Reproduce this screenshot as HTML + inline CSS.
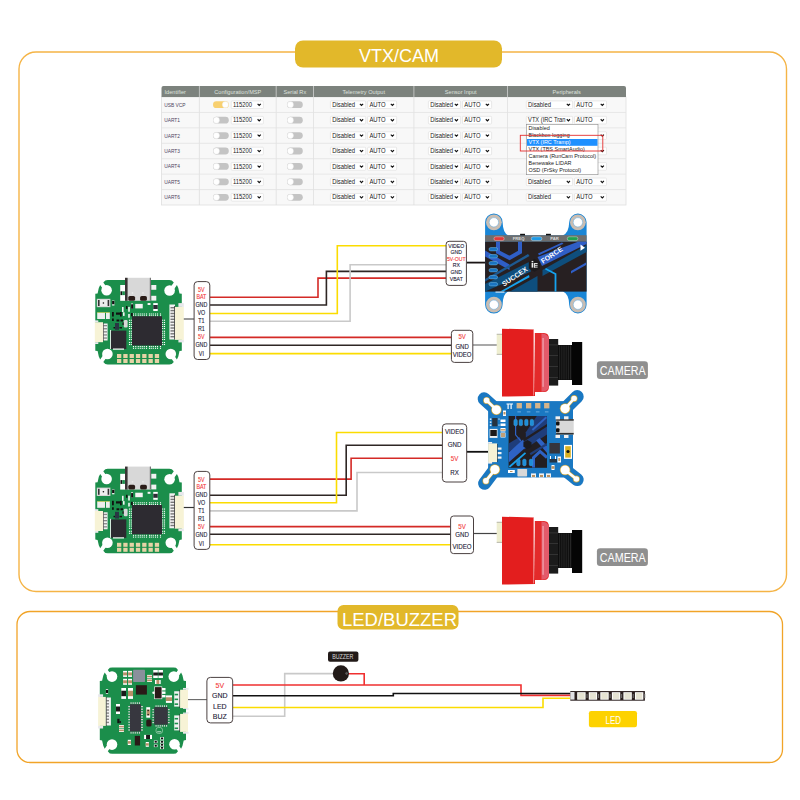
<!DOCTYPE html>
<html><head><meta charset="utf-8"><style>
html,body{margin:0;padding:0;background:#fff;width:800px;height:800px;overflow:hidden}
svg{position:absolute;left:0;top:0;font-family:"Liberation Sans", sans-serif}
</style></head><body>
<svg width="800" height="800" viewBox="0 0 800 800">
<rect x="19" y="52" width="767.5" height="539.5" rx="17" ry="17" fill="none" stroke="#f5b446" stroke-width="1.4"/>
<rect x="295" y="40.5" width="207" height="27" rx="8" fill="#e2b82a"/>
<text x="399" y="62" font-size="18" fill="#fff" text-anchor="middle">VTX/CAM</text>
<rect x="17" y="611.5" width="765.5" height="151" rx="13" ry="13" fill="none" stroke="#f1a428" stroke-width="1.3"/>
<rect x="337.5" y="605" width="121" height="24.5" rx="6" fill="#e2b82a"/>
<text x="399.5" y="625.5" font-size="18.5" fill="#fff" text-anchor="middle">LED/BUZZER</text>
<rect x="161.5" y="97" width="464.5" height="108.00999999999999" fill="#f8f8f8" stroke="#dedede" stroke-width="0.8"/>
<path d="M161.5 97 V88 Q161.5 86 163.5 86 H624 Q626 86 626 88 V97 Z" fill="#7c827d"/>
<text x="164.5" y="93.6" font-size="5.6" fill="#dfe2df">Identifier</text>
<text x="237.8" y="93.6" font-size="5.6" fill="#dfe2df" text-anchor="middle">Configuration/MSP</text>
<text x="294.85" y="93.6" font-size="5.6" fill="#dfe2df" text-anchor="middle">Serial Rx</text>
<text x="363.7" y="93.6" font-size="5.6" fill="#dfe2df" text-anchor="middle">Telemetry Output</text>
<text x="460.7" y="93.6" font-size="5.6" fill="#dfe2df" text-anchor="middle">Sensor Input</text>
<text x="566.75" y="93.6" font-size="5.6" fill="#dfe2df" text-anchor="middle">Peripherals</text>
<line x1="199.4" y1="86" x2="199.4" y2="205.01" stroke="#dcdcdc" stroke-width="0.7"/>
<line x1="276.2" y1="86" x2="276.2" y2="205.01" stroke="#dcdcdc" stroke-width="0.7"/>
<line x1="313.5" y1="86" x2="313.5" y2="205.01" stroke="#dcdcdc" stroke-width="0.7"/>
<line x1="413.9" y1="86" x2="413.9" y2="205.01" stroke="#dcdcdc" stroke-width="0.7"/>
<line x1="507.5" y1="86" x2="507.5" y2="205.01" stroke="#dcdcdc" stroke-width="0.7"/>
<line x1="161.5" y1="112.43" x2="626" y2="112.43" stroke="#e2e2e2" stroke-width="0.8"/>
<line x1="161.5" y1="127.86" x2="626" y2="127.86" stroke="#e2e2e2" stroke-width="0.8"/>
<line x1="161.5" y1="143.29" x2="626" y2="143.29" stroke="#e2e2e2" stroke-width="0.8"/>
<line x1="161.5" y1="158.72" x2="626" y2="158.72" stroke="#e2e2e2" stroke-width="0.8"/>
<line x1="161.5" y1="174.15" x2="626" y2="174.15" stroke="#e2e2e2" stroke-width="0.8"/>
<line x1="161.5" y1="189.57999999999998" x2="626" y2="189.57999999999998" stroke="#e2e2e2" stroke-width="0.8"/>
<text transform="translate(164.2 106.715) scale(0.84 1)" font-size="5.8" fill="#4d4460">USB VCP</text>
<rect x="213" y="101.315" width="15.8" height="6.8" rx="3.4" fill="#f8d070"/><circle cx="225.4" cy="104.715" r="3.1" fill="#fff" stroke="#e0e0e0" stroke-width="0.3"/>
<rect x="231.2" y="100.915" width="32.19999999999999" height="7.6" rx="0.8" fill="#fff" stroke="#d6d6d6" stroke-width="0.5"/><text transform="translate(233.0 106.915) scale(0.920 1)" font-size="6.4" fill="#1a1a1a">115200</text><path d="M257.59999999999997 103.815 L259.2 105.415 L260.8 103.815" fill="none" stroke="#111" stroke-width="1.15"/>
<rect x="287" y="101.315" width="15.8" height="6.8" rx="3.4" fill="#c4c4c4"/><circle cx="290.4" cy="104.715" r="3.1" fill="#fff" stroke="#e0e0e0" stroke-width="0.3"/>
<rect x="330.4" y="100.915" width="35.30000000000001" height="7.6" rx="0.8" fill="#fff" stroke="#d6d6d6" stroke-width="0.5"/><text transform="translate(332.2 106.915) scale(0.920 1)" font-size="6.4" fill="#1a1a1a">Disabled</text><path d="M359.9 103.815 L361.5 105.415 L363.1 103.815" fill="none" stroke="#111" stroke-width="1.15"/>
<rect x="367.6" y="100.915" width="29.0" height="7.6" rx="0.8" fill="#fff" stroke="#d6d6d6" stroke-width="0.5"/><text transform="translate(369.40000000000003 106.915) scale(0.920 1)" font-size="6.4" fill="#1a1a1a">AUTO</text><path d="M390.8 103.815 L392.40000000000003 105.415 L394.00000000000006 103.815" fill="none" stroke="#111" stroke-width="1.15"/>
<rect x="428.4" y="100.915" width="32.200000000000045" height="7.6" rx="0.8" fill="#fff" stroke="#d6d6d6" stroke-width="0.5"/><text transform="translate(430.2 106.915) scale(0.920 1)" font-size="6.4" fill="#1a1a1a">Disabled</text><path d="M454.8 103.815 L456.40000000000003 105.415 L458.00000000000006 103.815" fill="none" stroke="#111" stroke-width="1.15"/>
<rect x="462.5" y="100.915" width="29.100000000000023" height="7.6" rx="0.8" fill="#fff" stroke="#d6d6d6" stroke-width="0.5"/><text transform="translate(464.3 106.915) scale(0.920 1)" font-size="6.4" fill="#1a1a1a">AUTO</text><path d="M485.8 103.815 L487.40000000000003 105.415 L489.00000000000006 103.815" fill="none" stroke="#111" stroke-width="1.15"/>
<rect x="526.3" y="100.915" width="46.30000000000007" height="7.6" rx="0.8" fill="#fff" stroke="#d6d6d6" stroke-width="0.5"/><text transform="translate(528.0999999999999 106.915) scale(0.920 1)" font-size="6.4" fill="#1a1a1a">Disabled</text><path d="M566.8 103.815 L568.4 105.415 L570.0 103.815" fill="none" stroke="#111" stroke-width="1.15"/>
<rect x="574.5" y="100.915" width="32.0" height="7.6" rx="0.8" fill="#fff" stroke="#d6d6d6" stroke-width="0.5"/><text transform="translate(576.3 106.915) scale(0.920 1)" font-size="6.4" fill="#1a1a1a">AUTO</text><path d="M600.6999999999999 103.815 L602.3 105.415 L603.9 103.815" fill="none" stroke="#111" stroke-width="1.15"/>
<text transform="translate(164.2 122.14500000000001) scale(0.84 1)" font-size="5.8" fill="#4d4460">UART1</text>
<rect x="213" y="116.745" width="15.8" height="6.8" rx="3.4" fill="#c4c4c4"/><circle cx="216.4" cy="120.14500000000001" r="3.1" fill="#fff" stroke="#e0e0e0" stroke-width="0.3"/>
<rect x="231.2" y="116.34500000000001" width="32.19999999999999" height="7.6" rx="0.8" fill="#fff" stroke="#d6d6d6" stroke-width="0.5"/><text transform="translate(233.0 122.34500000000001) scale(0.920 1)" font-size="6.4" fill="#1a1a1a">115200</text><path d="M257.59999999999997 119.245 L259.2 120.84500000000001 L260.8 119.245" fill="none" stroke="#111" stroke-width="1.15"/>
<rect x="287" y="116.745" width="15.8" height="6.8" rx="3.4" fill="#c4c4c4"/><circle cx="290.4" cy="120.14500000000001" r="3.1" fill="#fff" stroke="#e0e0e0" stroke-width="0.3"/>
<rect x="330.4" y="116.34500000000001" width="35.30000000000001" height="7.6" rx="0.8" fill="#fff" stroke="#d6d6d6" stroke-width="0.5"/><text transform="translate(332.2 122.34500000000001) scale(0.920 1)" font-size="6.4" fill="#1a1a1a">Disabled</text><path d="M359.9 119.245 L361.5 120.84500000000001 L363.1 119.245" fill="none" stroke="#111" stroke-width="1.15"/>
<rect x="367.6" y="116.34500000000001" width="29.0" height="7.6" rx="0.8" fill="#fff" stroke="#d6d6d6" stroke-width="0.5"/><text transform="translate(369.40000000000003 122.34500000000001) scale(0.920 1)" font-size="6.4" fill="#1a1a1a">AUTO</text><path d="M390.8 119.245 L392.40000000000003 120.84500000000001 L394.00000000000006 119.245" fill="none" stroke="#111" stroke-width="1.15"/>
<rect x="428.4" y="116.34500000000001" width="32.200000000000045" height="7.6" rx="0.8" fill="#fff" stroke="#d6d6d6" stroke-width="0.5"/><text transform="translate(430.2 122.34500000000001) scale(0.920 1)" font-size="6.4" fill="#1a1a1a">Disabled</text><path d="M454.8 119.245 L456.40000000000003 120.84500000000001 L458.00000000000006 119.245" fill="none" stroke="#111" stroke-width="1.15"/>
<rect x="462.5" y="116.34500000000001" width="29.100000000000023" height="7.6" rx="0.8" fill="#fff" stroke="#d6d6d6" stroke-width="0.5"/><text transform="translate(464.3 122.34500000000001) scale(0.920 1)" font-size="6.4" fill="#1a1a1a">AUTO</text><path d="M485.8 119.245 L487.40000000000003 120.84500000000001 L489.00000000000006 119.245" fill="none" stroke="#111" stroke-width="1.15"/>
<rect x="526.3" y="116.34500000000001" width="46.30000000000007" height="7.6" rx="0.8" fill="#fff" stroke="#d6d6d6" stroke-width="0.5"/><text transform="translate(528.0999999999999 122.34500000000001) scale(0.892 1)" font-size="6.4" fill="#1a1a1a">VTX (IRC Tran</text><path d="M566.8 119.245 L568.4 120.84500000000001 L570.0 119.245" fill="none" stroke="#111" stroke-width="1.15"/>
<rect x="574.5" y="116.34500000000001" width="32.0" height="7.6" rx="0.8" fill="#fff" stroke="#d6d6d6" stroke-width="0.5"/><text transform="translate(576.3 122.34500000000001) scale(0.920 1)" font-size="6.4" fill="#1a1a1a">AUTO</text><path d="M600.6999999999999 119.245 L602.3 120.84500000000001 L603.9 119.245" fill="none" stroke="#111" stroke-width="1.15"/>
<text transform="translate(164.2 137.575) scale(0.84 1)" font-size="5.8" fill="#4d4460">UART2</text>
<rect x="213" y="132.17499999999998" width="15.8" height="6.8" rx="3.4" fill="#c4c4c4"/><circle cx="216.4" cy="135.575" r="3.1" fill="#fff" stroke="#e0e0e0" stroke-width="0.3"/>
<rect x="231.2" y="131.77499999999998" width="32.19999999999999" height="7.6" rx="0.8" fill="#fff" stroke="#d6d6d6" stroke-width="0.5"/><text transform="translate(233.0 137.77499999999998) scale(0.920 1)" font-size="6.4" fill="#1a1a1a">115200</text><path d="M257.59999999999997 134.67499999999998 L259.2 136.27499999999998 L260.8 134.67499999999998" fill="none" stroke="#111" stroke-width="1.15"/>
<rect x="287" y="132.17499999999998" width="15.8" height="6.8" rx="3.4" fill="#c4c4c4"/><circle cx="290.4" cy="135.575" r="3.1" fill="#fff" stroke="#e0e0e0" stroke-width="0.3"/>
<rect x="330.4" y="131.77499999999998" width="35.30000000000001" height="7.6" rx="0.8" fill="#fff" stroke="#d6d6d6" stroke-width="0.5"/><text transform="translate(332.2 137.77499999999998) scale(0.920 1)" font-size="6.4" fill="#1a1a1a">Disabled</text><path d="M359.9 134.67499999999998 L361.5 136.27499999999998 L363.1 134.67499999999998" fill="none" stroke="#111" stroke-width="1.15"/>
<rect x="367.6" y="131.77499999999998" width="29.0" height="7.6" rx="0.8" fill="#fff" stroke="#d6d6d6" stroke-width="0.5"/><text transform="translate(369.40000000000003 137.77499999999998) scale(0.920 1)" font-size="6.4" fill="#1a1a1a">AUTO</text><path d="M390.8 134.67499999999998 L392.40000000000003 136.27499999999998 L394.00000000000006 134.67499999999998" fill="none" stroke="#111" stroke-width="1.15"/>
<rect x="428.4" y="131.77499999999998" width="32.200000000000045" height="7.6" rx="0.8" fill="#fff" stroke="#d6d6d6" stroke-width="0.5"/><text transform="translate(430.2 137.77499999999998) scale(0.920 1)" font-size="6.4" fill="#1a1a1a">Disabled</text><path d="M454.8 134.67499999999998 L456.40000000000003 136.27499999999998 L458.00000000000006 134.67499999999998" fill="none" stroke="#111" stroke-width="1.15"/>
<rect x="462.5" y="131.77499999999998" width="29.100000000000023" height="7.6" rx="0.8" fill="#fff" stroke="#d6d6d6" stroke-width="0.5"/><text transform="translate(464.3 137.77499999999998) scale(0.920 1)" font-size="6.4" fill="#1a1a1a">AUTO</text><path d="M485.8 134.67499999999998 L487.40000000000003 136.27499999999998 L489.00000000000006 134.67499999999998" fill="none" stroke="#111" stroke-width="1.15"/>
<rect x="526.3" y="131.77499999999998" width="46.30000000000007" height="7.6" rx="0.8" fill="#fff" stroke="#d6d6d6" stroke-width="0.5"/><text transform="translate(528.0999999999999 137.77499999999998) scale(0.920 1)" font-size="6.4" fill="#1a1a1a">Disabled</text><path d="M566.8 134.67499999999998 L568.4 136.27499999999998 L570.0 134.67499999999998" fill="none" stroke="#111" stroke-width="1.15"/>
<rect x="574.5" y="131.77499999999998" width="32.0" height="7.6" rx="0.8" fill="#fff" stroke="#d6d6d6" stroke-width="0.5"/><text transform="translate(576.3 137.77499999999998) scale(0.920 1)" font-size="6.4" fill="#1a1a1a">AUTO</text><path d="M600.6999999999999 134.67499999999998 L602.3 136.27499999999998 L603.9 134.67499999999998" fill="none" stroke="#111" stroke-width="1.15"/>
<text transform="translate(164.2 153.005) scale(0.84 1)" font-size="5.8" fill="#4d4460">UART3</text>
<rect x="213" y="147.605" width="15.8" height="6.8" rx="3.4" fill="#c4c4c4"/><circle cx="216.4" cy="151.005" r="3.1" fill="#fff" stroke="#e0e0e0" stroke-width="0.3"/>
<rect x="231.2" y="147.20499999999998" width="32.19999999999999" height="7.6" rx="0.8" fill="#fff" stroke="#d6d6d6" stroke-width="0.5"/><text transform="translate(233.0 153.20499999999998) scale(0.920 1)" font-size="6.4" fill="#1a1a1a">115200</text><path d="M257.59999999999997 150.105 L259.2 151.70499999999998 L260.8 150.105" fill="none" stroke="#111" stroke-width="1.15"/>
<rect x="287" y="147.605" width="15.8" height="6.8" rx="3.4" fill="#c4c4c4"/><circle cx="290.4" cy="151.005" r="3.1" fill="#fff" stroke="#e0e0e0" stroke-width="0.3"/>
<rect x="330.4" y="147.20499999999998" width="35.30000000000001" height="7.6" rx="0.8" fill="#fff" stroke="#d6d6d6" stroke-width="0.5"/><text transform="translate(332.2 153.20499999999998) scale(0.920 1)" font-size="6.4" fill="#1a1a1a">Disabled</text><path d="M359.9 150.105 L361.5 151.70499999999998 L363.1 150.105" fill="none" stroke="#111" stroke-width="1.15"/>
<rect x="367.6" y="147.20499999999998" width="29.0" height="7.6" rx="0.8" fill="#fff" stroke="#d6d6d6" stroke-width="0.5"/><text transform="translate(369.40000000000003 153.20499999999998) scale(0.920 1)" font-size="6.4" fill="#1a1a1a">AUTO</text><path d="M390.8 150.105 L392.40000000000003 151.70499999999998 L394.00000000000006 150.105" fill="none" stroke="#111" stroke-width="1.15"/>
<rect x="428.4" y="147.20499999999998" width="32.200000000000045" height="7.6" rx="0.8" fill="#fff" stroke="#d6d6d6" stroke-width="0.5"/><text transform="translate(430.2 153.20499999999998) scale(0.920 1)" font-size="6.4" fill="#1a1a1a">Disabled</text><path d="M454.8 150.105 L456.40000000000003 151.70499999999998 L458.00000000000006 150.105" fill="none" stroke="#111" stroke-width="1.15"/>
<rect x="462.5" y="147.20499999999998" width="29.100000000000023" height="7.6" rx="0.8" fill="#fff" stroke="#d6d6d6" stroke-width="0.5"/><text transform="translate(464.3 153.20499999999998) scale(0.920 1)" font-size="6.4" fill="#1a1a1a">AUTO</text><path d="M485.8 150.105 L487.40000000000003 151.70499999999998 L489.00000000000006 150.105" fill="none" stroke="#111" stroke-width="1.15"/>
<rect x="526.3" y="147.20499999999998" width="46.30000000000007" height="7.6" rx="0.8" fill="#fff" stroke="#d6d6d6" stroke-width="0.5"/><text transform="translate(528.0999999999999 153.20499999999998) scale(0.920 1)" font-size="6.4" fill="#1a1a1a">Disabled</text><path d="M566.8 150.105 L568.4 151.70499999999998 L570.0 150.105" fill="none" stroke="#111" stroke-width="1.15"/>
<rect x="574.5" y="147.20499999999998" width="32.0" height="7.6" rx="0.8" fill="#fff" stroke="#d6d6d6" stroke-width="0.5"/><text transform="translate(576.3 153.20499999999998) scale(0.920 1)" font-size="6.4" fill="#1a1a1a">AUTO</text><path d="M600.6999999999999 150.105 L602.3 151.70499999999998 L603.9 150.105" fill="none" stroke="#111" stroke-width="1.15"/>
<text transform="translate(164.2 168.435) scale(0.84 1)" font-size="5.8" fill="#4d4460">UART4</text>
<rect x="213" y="163.035" width="15.8" height="6.8" rx="3.4" fill="#c4c4c4"/><circle cx="216.4" cy="166.435" r="3.1" fill="#fff" stroke="#e0e0e0" stroke-width="0.3"/>
<rect x="231.2" y="162.635" width="32.19999999999999" height="7.6" rx="0.8" fill="#fff" stroke="#d6d6d6" stroke-width="0.5"/><text transform="translate(233.0 168.635) scale(0.920 1)" font-size="6.4" fill="#1a1a1a">115200</text><path d="M257.59999999999997 165.535 L259.2 167.135 L260.8 165.535" fill="none" stroke="#111" stroke-width="1.15"/>
<rect x="287" y="163.035" width="15.8" height="6.8" rx="3.4" fill="#c4c4c4"/><circle cx="290.4" cy="166.435" r="3.1" fill="#fff" stroke="#e0e0e0" stroke-width="0.3"/>
<rect x="330.4" y="162.635" width="35.30000000000001" height="7.6" rx="0.8" fill="#fff" stroke="#d6d6d6" stroke-width="0.5"/><text transform="translate(332.2 168.635) scale(0.920 1)" font-size="6.4" fill="#1a1a1a">Disabled</text><path d="M359.9 165.535 L361.5 167.135 L363.1 165.535" fill="none" stroke="#111" stroke-width="1.15"/>
<rect x="367.6" y="162.635" width="29.0" height="7.6" rx="0.8" fill="#fff" stroke="#d6d6d6" stroke-width="0.5"/><text transform="translate(369.40000000000003 168.635) scale(0.920 1)" font-size="6.4" fill="#1a1a1a">AUTO</text><path d="M390.8 165.535 L392.40000000000003 167.135 L394.00000000000006 165.535" fill="none" stroke="#111" stroke-width="1.15"/>
<rect x="428.4" y="162.635" width="32.200000000000045" height="7.6" rx="0.8" fill="#fff" stroke="#d6d6d6" stroke-width="0.5"/><text transform="translate(430.2 168.635) scale(0.920 1)" font-size="6.4" fill="#1a1a1a">Disabled</text><path d="M454.8 165.535 L456.40000000000003 167.135 L458.00000000000006 165.535" fill="none" stroke="#111" stroke-width="1.15"/>
<rect x="462.5" y="162.635" width="29.100000000000023" height="7.6" rx="0.8" fill="#fff" stroke="#d6d6d6" stroke-width="0.5"/><text transform="translate(464.3 168.635) scale(0.920 1)" font-size="6.4" fill="#1a1a1a">AUTO</text><path d="M485.8 165.535 L487.40000000000003 167.135 L489.00000000000006 165.535" fill="none" stroke="#111" stroke-width="1.15"/>
<rect x="526.3" y="162.635" width="46.30000000000007" height="7.6" rx="0.8" fill="#fff" stroke="#d6d6d6" stroke-width="0.5"/><text transform="translate(528.0999999999999 168.635) scale(0.920 1)" font-size="6.4" fill="#1a1a1a">Disabled</text><path d="M566.8 165.535 L568.4 167.135 L570.0 165.535" fill="none" stroke="#111" stroke-width="1.15"/>
<rect x="574.5" y="162.635" width="32.0" height="7.6" rx="0.8" fill="#fff" stroke="#d6d6d6" stroke-width="0.5"/><text transform="translate(576.3 168.635) scale(0.920 1)" font-size="6.4" fill="#1a1a1a">AUTO</text><path d="M600.6999999999999 165.535 L602.3 167.135 L603.9 165.535" fill="none" stroke="#111" stroke-width="1.15"/>
<text transform="translate(164.2 183.865) scale(0.84 1)" font-size="5.8" fill="#4d4460">UART5</text>
<rect x="213" y="178.465" width="15.8" height="6.8" rx="3.4" fill="#c4c4c4"/><circle cx="216.4" cy="181.865" r="3.1" fill="#fff" stroke="#e0e0e0" stroke-width="0.3"/>
<rect x="231.2" y="178.065" width="32.19999999999999" height="7.6" rx="0.8" fill="#fff" stroke="#d6d6d6" stroke-width="0.5"/><text transform="translate(233.0 184.065) scale(0.920 1)" font-size="6.4" fill="#1a1a1a">115200</text><path d="M257.59999999999997 180.965 L259.2 182.565 L260.8 180.965" fill="none" stroke="#111" stroke-width="1.15"/>
<rect x="287" y="178.465" width="15.8" height="6.8" rx="3.4" fill="#c4c4c4"/><circle cx="290.4" cy="181.865" r="3.1" fill="#fff" stroke="#e0e0e0" stroke-width="0.3"/>
<rect x="330.4" y="178.065" width="35.30000000000001" height="7.6" rx="0.8" fill="#fff" stroke="#d6d6d6" stroke-width="0.5"/><text transform="translate(332.2 184.065) scale(0.920 1)" font-size="6.4" fill="#1a1a1a">Disabled</text><path d="M359.9 180.965 L361.5 182.565 L363.1 180.965" fill="none" stroke="#111" stroke-width="1.15"/>
<rect x="367.6" y="178.065" width="29.0" height="7.6" rx="0.8" fill="#fff" stroke="#d6d6d6" stroke-width="0.5"/><text transform="translate(369.40000000000003 184.065) scale(0.920 1)" font-size="6.4" fill="#1a1a1a">AUTO</text><path d="M390.8 180.965 L392.40000000000003 182.565 L394.00000000000006 180.965" fill="none" stroke="#111" stroke-width="1.15"/>
<rect x="428.4" y="178.065" width="32.200000000000045" height="7.6" rx="0.8" fill="#fff" stroke="#d6d6d6" stroke-width="0.5"/><text transform="translate(430.2 184.065) scale(0.920 1)" font-size="6.4" fill="#1a1a1a">Disabled</text><path d="M454.8 180.965 L456.40000000000003 182.565 L458.00000000000006 180.965" fill="none" stroke="#111" stroke-width="1.15"/>
<rect x="462.5" y="178.065" width="29.100000000000023" height="7.6" rx="0.8" fill="#fff" stroke="#d6d6d6" stroke-width="0.5"/><text transform="translate(464.3 184.065) scale(0.920 1)" font-size="6.4" fill="#1a1a1a">AUTO</text><path d="M485.8 180.965 L487.40000000000003 182.565 L489.00000000000006 180.965" fill="none" stroke="#111" stroke-width="1.15"/>
<rect x="526.3" y="178.065" width="46.30000000000007" height="7.6" rx="0.8" fill="#fff" stroke="#d6d6d6" stroke-width="0.5"/><text transform="translate(528.0999999999999 184.065) scale(0.920 1)" font-size="6.4" fill="#1a1a1a">Disabled</text><path d="M566.8 180.965 L568.4 182.565 L570.0 180.965" fill="none" stroke="#111" stroke-width="1.15"/>
<rect x="574.5" y="178.065" width="32.0" height="7.6" rx="0.8" fill="#fff" stroke="#d6d6d6" stroke-width="0.5"/><text transform="translate(576.3 184.065) scale(0.920 1)" font-size="6.4" fill="#1a1a1a">AUTO</text><path d="M600.6999999999999 180.965 L602.3 182.565 L603.9 180.965" fill="none" stroke="#111" stroke-width="1.15"/>
<text transform="translate(164.2 199.295) scale(0.84 1)" font-size="5.8" fill="#4d4460">UART6</text>
<rect x="213" y="193.89499999999998" width="15.8" height="6.8" rx="3.4" fill="#c4c4c4"/><circle cx="216.4" cy="197.295" r="3.1" fill="#fff" stroke="#e0e0e0" stroke-width="0.3"/>
<rect x="231.2" y="193.49499999999998" width="32.19999999999999" height="7.6" rx="0.8" fill="#fff" stroke="#d6d6d6" stroke-width="0.5"/><text transform="translate(233.0 199.49499999999998) scale(0.920 1)" font-size="6.4" fill="#1a1a1a">115200</text><path d="M257.59999999999997 196.39499999999998 L259.2 197.99499999999998 L260.8 196.39499999999998" fill="none" stroke="#111" stroke-width="1.15"/>
<rect x="287" y="193.89499999999998" width="15.8" height="6.8" rx="3.4" fill="#c4c4c4"/><circle cx="290.4" cy="197.295" r="3.1" fill="#fff" stroke="#e0e0e0" stroke-width="0.3"/>
<rect x="330.4" y="193.49499999999998" width="35.30000000000001" height="7.6" rx="0.8" fill="#fff" stroke="#d6d6d6" stroke-width="0.5"/><text transform="translate(332.2 199.49499999999998) scale(0.920 1)" font-size="6.4" fill="#1a1a1a">Disabled</text><path d="M359.9 196.39499999999998 L361.5 197.99499999999998 L363.1 196.39499999999998" fill="none" stroke="#111" stroke-width="1.15"/>
<rect x="367.6" y="193.49499999999998" width="29.0" height="7.6" rx="0.8" fill="#fff" stroke="#d6d6d6" stroke-width="0.5"/><text transform="translate(369.40000000000003 199.49499999999998) scale(0.920 1)" font-size="6.4" fill="#1a1a1a">AUTO</text><path d="M390.8 196.39499999999998 L392.40000000000003 197.99499999999998 L394.00000000000006 196.39499999999998" fill="none" stroke="#111" stroke-width="1.15"/>
<rect x="428.4" y="193.49499999999998" width="32.200000000000045" height="7.6" rx="0.8" fill="#fff" stroke="#d6d6d6" stroke-width="0.5"/><text transform="translate(430.2 199.49499999999998) scale(0.920 1)" font-size="6.4" fill="#1a1a1a">Disabled</text><path d="M454.8 196.39499999999998 L456.40000000000003 197.99499999999998 L458.00000000000006 196.39499999999998" fill="none" stroke="#111" stroke-width="1.15"/>
<rect x="462.5" y="193.49499999999998" width="29.100000000000023" height="7.6" rx="0.8" fill="#fff" stroke="#d6d6d6" stroke-width="0.5"/><text transform="translate(464.3 199.49499999999998) scale(0.920 1)" font-size="6.4" fill="#1a1a1a">AUTO</text><path d="M485.8 196.39499999999998 L487.40000000000003 197.99499999999998 L489.00000000000006 196.39499999999998" fill="none" stroke="#111" stroke-width="1.15"/>
<rect x="526.3" y="193.49499999999998" width="46.30000000000007" height="7.6" rx="0.8" fill="#fff" stroke="#d6d6d6" stroke-width="0.5"/><text transform="translate(528.0999999999999 199.49499999999998) scale(0.920 1)" font-size="6.4" fill="#1a1a1a">Disabled</text><path d="M566.8 196.39499999999998 L568.4 197.99499999999998 L570.0 196.39499999999998" fill="none" stroke="#111" stroke-width="1.15"/>
<rect x="574.5" y="193.49499999999998" width="32.0" height="7.6" rx="0.8" fill="#fff" stroke="#d6d6d6" stroke-width="0.5"/><text transform="translate(576.3 199.49499999999998) scale(0.920 1)" font-size="6.4" fill="#1a1a1a">AUTO</text><path d="M600.6999999999999 196.39499999999998 L602.3 197.99499999999998 L603.9 196.39499999999998" fill="none" stroke="#111" stroke-width="1.15"/>
<rect x="526.5" y="124.5" width="71.5" height="50.2" fill="#fff" stroke="#8a8a8a" stroke-width="0.6"/>
<rect x="527" y="139" width="70.5" height="6.8" fill="#1e90ff"/>
<text transform="translate(528.5 130.0) scale(0.88 1)" font-size="6.2" fill="#222">Disabled</text>
<text transform="translate(528.5 137.05) scale(0.88 1)" font-size="6.2" fill="#222">Blackbox logging</text>
<text transform="translate(528.5 144.1) scale(0.88 1)" font-size="6.2" fill="#fff">VTX (IRC Tramp)</text>
<text transform="translate(528.5 151.15) scale(0.88 1)" font-size="6.2" fill="#222">VTX (TBS SmartAudio)</text>
<text transform="translate(528.5 158.2) scale(0.88 1)" font-size="6.2" fill="#222">Camera (RunCam Protocol)</text>
<text transform="translate(528.5 165.25) scale(0.88 1)" font-size="6.2" fill="#222">Benewake LIDAR</text>
<text transform="translate(528.5 172.3) scale(0.88 1)" font-size="6.2" fill="#222">OSD (FrSky Protocol)</text>
<rect x="520.3" y="135.3" width="82.5" height="15.7" fill="none" stroke="#e53030" stroke-width="0.9"/>
<path d="M210 297.3 L318 297.3 L318 278.1 L446.5 278.1" fill="none" stroke="#d42a26" stroke-width="1.6" stroke-linejoin="miter"/>
<path d="M210 305 L326.4 305 L326.4 271.4 L446.5 271.4" fill="none" stroke="#2e2624" stroke-width="1.6" stroke-linejoin="miter"/>
<path d="M210 313.5 L337.3 313.5 L337.3 245.7 L446.5 245.7" fill="none" stroke="#fbdc00" stroke-width="1.6" stroke-linejoin="miter"/>
<path d="M210 321.3 L350.1 321.3 L350.1 264.7 L446.5 264.7" fill="none" stroke="#c9c9c9" stroke-width="1.6" stroke-linejoin="miter"/>
<path d="M210 337.4 L451.5 337.4" fill="none" stroke="#d42a26" stroke-width="1.6" stroke-linejoin="miter"/>
<path d="M210 345.3 L451.5 345.3" fill="none" stroke="#2e2624" stroke-width="1.6" stroke-linejoin="miter"/>
<path d="M210 353.6 L451.5 353.6" fill="none" stroke="#fbdc00" stroke-width="1.6" stroke-linejoin="miter"/>
<path d="M182 319 L194.2 319" fill="none" stroke="#555" stroke-width="1.2" stroke-linejoin="miter"/>
<path d="M466.4 262.6 L486 262.6" fill="none" stroke="#1a1414" stroke-width="1.8" stroke-linejoin="miter"/>
<path d="M472.8 345 L497 345" fill="none" stroke="#858585" stroke-width="1.4" stroke-linejoin="miter"/>
<path d="M210 479.1 L351.1 479.1 L351.1 458.2 L442.6 458.2" fill="none" stroke="#d42a26" stroke-width="1.6" stroke-linejoin="miter"/>
<path d="M210 495.2 L346.2 495.2 L346.2 445.3 L442.6 445.3" fill="none" stroke="#2e2624" stroke-width="1.6" stroke-linejoin="miter"/>
<path d="M210 502.7 L336.5 502.7 L336.5 432.5 L442.6 432.5" fill="none" stroke="#fbdc00" stroke-width="1.6" stroke-linejoin="miter"/>
<path d="M210 510.9 L357 510.9 L357 472.5 L442.6 472.5" fill="none" stroke="#c9c9c9" stroke-width="1.6" stroke-linejoin="miter"/>
<path d="M210 526.6 L451 526.6" fill="none" stroke="#d42a26" stroke-width="1.6" stroke-linejoin="miter"/>
<path d="M210 534.2 L451 534.2" fill="none" stroke="#2e2624" stroke-width="1.6" stroke-linejoin="miter"/>
<path d="M210 544.7 L451 544.7" fill="none" stroke="#fbdc00" stroke-width="1.6" stroke-linejoin="miter"/>
<path d="M182 507.5 L194.2 507.5" fill="none" stroke="#333" stroke-width="1.2" stroke-linejoin="miter"/>
<path d="M466.7 451.8 L489 451.8" fill="none" stroke="#111" stroke-width="1.8" stroke-linejoin="miter"/>
<path d="M473.5 533.5 L497 533.5" fill="none" stroke="#444" stroke-width="1.2" stroke-linejoin="miter"/>
<path d="M188 699.6 L207 699.6" fill="none" stroke="#666" stroke-width="1.1" stroke-linejoin="miter"/>
<path d="M233 716.2 L284.7 716.2 L284.7 673.6 L335 673.6" fill="none" stroke="#c9c9c9" stroke-width="1.6" stroke-linejoin="miter"/>
<path d="M233 685 L521 685 L521 695.4 L571 695.4" fill="none" stroke="#f03030" stroke-width="1.6" stroke-linejoin="miter"/>
<path d="M364.2 685 L364.2 673.8 L343 673.8" fill="none" stroke="#f03030" stroke-width="1.6" stroke-linejoin="miter"/>
<path d="M233 695.7 L393.3 695.7 L393.3 693.5 L571 693.5" fill="none" stroke="#111" stroke-width="1.6" stroke-linejoin="miter"/>
<path d="M233 707.5 L543 707.5 L543 698.2 L571 698.2" fill="none" stroke="#fbdc00" stroke-width="1.6" stroke-linejoin="miter"/>
<rect x="194.1" y="281.6" width="15.700000000000017" height="77.89999999999998" rx="3.5" fill="#fff" stroke="#4a4040" stroke-width="1.0"/>
<text transform="translate(201.35 291.6) scale(0.82 1)" x="0" y="0" font-size="6.5" fill="#f23a3a" stroke="#f23a3a" stroke-width="0.12" text-anchor="middle">5V</text>
<text transform="translate(201.35 299.3) scale(0.82 1)" x="0" y="0" font-size="6.5" fill="#f23a3a" stroke="#f23a3a" stroke-width="0.12" text-anchor="middle">BAT</text>
<text transform="translate(201.35 307.1) scale(0.82 1)" x="0" y="0" font-size="6.5" fill="#1b2036" stroke="#1b2036" stroke-width="0.12" text-anchor="middle">GND</text>
<text transform="translate(201.35 315.3) scale(0.82 1)" x="0" y="0" font-size="6.5" fill="#1b2036" stroke="#1b2036" stroke-width="0.12" text-anchor="middle">VO</text>
<text transform="translate(201.35 323.2) scale(0.82 1)" x="0" y="0" font-size="6.5" fill="#1b2036" stroke="#1b2036" stroke-width="0.12" text-anchor="middle">T1</text>
<text transform="translate(201.35 331.2) scale(0.82 1)" x="0" y="0" font-size="6.5" fill="#1b2036" stroke="#1b2036" stroke-width="0.12" text-anchor="middle">R1</text>
<text transform="translate(201.35 339.2) scale(0.82 1)" x="0" y="0" font-size="6.5" fill="#f23a3a" stroke="#f23a3a" stroke-width="0.12" text-anchor="middle">5V</text>
<text transform="translate(201.35 347.2) scale(0.82 1)" x="0" y="0" font-size="6.5" fill="#1b2036" stroke="#1b2036" stroke-width="0.12" text-anchor="middle">GND</text>
<text transform="translate(201.35 355.9) scale(0.82 1)" x="0" y="0" font-size="6.5" fill="#1b2036" stroke="#1b2036" stroke-width="0.12" text-anchor="middle">VI</text>
<rect x="194.1" y="471.4" width="15.700000000000017" height="78.0" rx="3.5" fill="#fff" stroke="#4a4040" stroke-width="1.0"/>
<text transform="translate(201.35 481.6) scale(0.82 1)" x="0" y="0" font-size="6.5" fill="#f23a3a" stroke="#f23a3a" stroke-width="0.12" text-anchor="middle">5V</text>
<text transform="translate(201.35 489.3) scale(0.82 1)" x="0" y="0" font-size="6.5" fill="#f23a3a" stroke="#f23a3a" stroke-width="0.12" text-anchor="middle">BAT</text>
<text transform="translate(201.35 497.1) scale(0.82 1)" x="0" y="0" font-size="6.5" fill="#1b2036" stroke="#1b2036" stroke-width="0.12" text-anchor="middle">GND</text>
<text transform="translate(201.35 505.3) scale(0.82 1)" x="0" y="0" font-size="6.5" fill="#1b2036" stroke="#1b2036" stroke-width="0.12" text-anchor="middle">VO</text>
<text transform="translate(201.35 513.2) scale(0.82 1)" x="0" y="0" font-size="6.5" fill="#1b2036" stroke="#1b2036" stroke-width="0.12" text-anchor="middle">T1</text>
<text transform="translate(201.35 521.2) scale(0.82 1)" x="0" y="0" font-size="6.5" fill="#1b2036" stroke="#1b2036" stroke-width="0.12" text-anchor="middle">R1</text>
<text transform="translate(201.35 529.2) scale(0.82 1)" x="0" y="0" font-size="6.5" fill="#f23a3a" stroke="#f23a3a" stroke-width="0.12" text-anchor="middle">5V</text>
<text transform="translate(201.35 537.2) scale(0.82 1)" x="0" y="0" font-size="6.5" fill="#1b2036" stroke="#1b2036" stroke-width="0.12" text-anchor="middle">GND</text>
<text transform="translate(201.35 545.9) scale(0.82 1)" x="0" y="0" font-size="6.5" fill="#1b2036" stroke="#1b2036" stroke-width="0.12" text-anchor="middle">VI</text>
<rect x="446.1" y="241.3" width="20.299999999999955" height="44.099999999999966" rx="3" fill="#fff" stroke="#4a4040" stroke-width="1.0"/>
<text transform="translate(456.25 248.4) scale(0.83 1)" x="0" y="0" font-size="6.2" fill="#1b2036" stroke="#1b2036" stroke-width="0.12" text-anchor="middle">VIDEO</text>
<text transform="translate(456.25 254.2) scale(0.83 1)" x="0" y="0" font-size="6.2" fill="#1b2036" stroke="#1b2036" stroke-width="0.12" text-anchor="middle">GND</text>
<text transform="translate(456.25 261.3) scale(0.83 1)" x="0" y="0" font-size="6.2" fill="#f23a3a" stroke="#f23a3a" stroke-width="0.12" text-anchor="middle">5V-OUT</text>
<text transform="translate(456.25 267.3) scale(0.83 1)" x="0" y="0" font-size="6.2" fill="#1b2036" stroke="#1b2036" stroke-width="0.12" text-anchor="middle">RX</text>
<text transform="translate(456.25 274.2) scale(0.83 1)" x="0" y="0" font-size="6.2" fill="#1b2036" stroke="#1b2036" stroke-width="0.12" text-anchor="middle">GND</text>
<text transform="translate(456.25 281) scale(0.83 1)" x="0" y="0" font-size="6.2" fill="#1b2036" stroke="#1b2036" stroke-width="0.12" text-anchor="middle">VBAT</text>
<rect x="451.4" y="330.3" width="21.400000000000034" height="32.099999999999966" rx="3" fill="#fff" stroke="#4a4040" stroke-width="1.0"/>
<text transform="translate(462.1 338.8) scale(0.87 1)" x="0" y="0" font-size="6.9" fill="#f23a3a" stroke="#f23a3a" stroke-width="0.12" text-anchor="middle">5V</text>
<text transform="translate(462.1 348.6) scale(0.87 1)" x="0" y="0" font-size="6.9" fill="#1b2036" stroke="#1b2036" stroke-width="0.12" text-anchor="middle">GND</text>
<text transform="translate(462.1 357.3) scale(0.87 1)" x="0" y="0" font-size="6.9" fill="#1b2036" stroke="#1b2036" stroke-width="0.12" text-anchor="middle">VIDEO</text>
<rect x="442.4" y="423.9" width="24.30000000000001" height="58.10000000000002" rx="3.5" fill="#fff" stroke="#4a4040" stroke-width="1.0"/>
<text transform="translate(454.54999999999995 434.2) scale(0.88 1)" x="0" y="0" font-size="7.0" fill="#1b2036" stroke="#1b2036" stroke-width="0.12" text-anchor="middle">VIDEO</text>
<text transform="translate(454.54999999999995 447.3) scale(0.88 1)" x="0" y="0" font-size="7.0" fill="#1b2036" stroke="#1b2036" stroke-width="0.12" text-anchor="middle">GND</text>
<text transform="translate(454.54999999999995 461.4) scale(0.88 1)" x="0" y="0" font-size="7.0" fill="#f23a3a" stroke="#f23a3a" stroke-width="0.12" text-anchor="middle">5V</text>
<text transform="translate(454.54999999999995 475) scale(0.88 1)" x="0" y="0" font-size="7.0" fill="#1b2036" stroke="#1b2036" stroke-width="0.12" text-anchor="middle">RX</text>
<rect x="450.6" y="516" width="22.899999999999977" height="37.60000000000002" rx="3" fill="#fff" stroke="#4a4040" stroke-width="1.0"/>
<text transform="translate(462.05 528.6) scale(0.88 1)" x="0" y="0" font-size="7.0" fill="#f23a3a" stroke="#f23a3a" stroke-width="0.12" text-anchor="middle">5V</text>
<text transform="translate(462.05 536.6) scale(0.88 1)" x="0" y="0" font-size="7.0" fill="#1b2036" stroke="#1b2036" stroke-width="0.12" text-anchor="middle">GND</text>
<text transform="translate(462.05 548.9) scale(0.88 1)" x="0" y="0" font-size="7.0" fill="#1b2036" stroke="#1b2036" stroke-width="0.12" text-anchor="middle">VIDEO</text>
<rect x="206.9" y="677.4" width="25.799999999999983" height="45.5" rx="3.5" fill="#fff" stroke="#4a4040" stroke-width="1.0"/>
<text transform="translate(219.8 687.5) scale(0.97 1)" x="0" y="0" font-size="7.2" fill="#f23a3a" stroke="#f23a3a" stroke-width="0.12" text-anchor="middle">5V</text>
<text transform="translate(219.8 698.4) scale(0.97 1)" x="0" y="0" font-size="7.2" fill="#1b2036" stroke="#1b2036" stroke-width="0.12" text-anchor="middle">GND</text>
<text transform="translate(219.8 709.4) scale(0.97 1)" x="0" y="0" font-size="7.2" fill="#1b2036" stroke="#1b2036" stroke-width="0.12" text-anchor="middle">LED</text>
<text transform="translate(219.8 719.4) scale(0.97 1)" x="0" y="0" font-size="7.2" fill="#1b2036" stroke="#1b2036" stroke-width="0.12" text-anchor="middle">BUZ</text>
<g id="fc1"><path d="M95.30 293.70 L97.60 293.40 L98.80 288.00 L100.20 285.10 L102.90 289.00 L105.80 286.00 L103.30 282.50 L105.30 280.40 L107.70 280.00 L169.40 280.00 L171.80 280.40 L173.80 282.50 L171.30 286.00 L174.20 289.00 L176.90 285.10 L178.30 288.00 L179.50 293.40 L181.80 293.70 L181.80 350.80 L179.50 351.10 L178.30 356.50 L176.90 359.40 L174.20 355.50 L171.30 358.50 L173.80 362.00 L171.80 364.10 L169.40 364.50 L107.70 364.50 L105.30 364.10 L103.30 362.00 L105.80 358.50 L102.90 355.50 L100.20 359.40 L98.80 356.50 L97.60 351.10 L95.30 350.80 Z" fill="#1b8e4b"/>
<circle cx="106.6" cy="290.2" r="5.3" fill="#fff"/>
<circle cx="169.6" cy="290.5" r="5.3" fill="#fff"/>
<circle cx="107.4" cy="354" r="5.3" fill="#fff"/>
<circle cx="170.8" cy="354" r="5.3" fill="#fff"/>
<rect x="125" y="277.8" width="26" height="23" fill="#d8d8d8"/>
<rect x="125" y="277.8" width="2.6" height="23" fill="#3a3434"/>
<rect x="149.8" y="277.8" width="1.2" height="23" fill="#777"/>
<rect x="128.3" y="296" width="6.8" height="4.8" rx="1.6" fill="#2a1c18"/>
<rect x="140.1" y="296" width="6.8" height="4.8" rx="1.6" fill="#2a1c18"/>
<circle cx="132.5" cy="293" r="0.9" fill="#e8e8e8"/><circle cx="143" cy="293" r="0.9" fill="#e8e8e8"/>
<rect x="120.2" y="285" width="4.8" height="15.8" fill="#fff"/>
<rect x="120.5" y="291.3" width="1.8" height="3.8" fill="#111"/>
<rect x="122.3" y="291.3" width="2.6" height="3.8" fill="#1b8e4b"/>
<rect x="151.3" y="285" width="5" height="4.8" fill="#f2f2f2"/>
<rect x="151.3" y="295.8" width="5" height="4.8" fill="#f2f2f2"/>
<rect x="96.8" y="298.8" width="13.6" height="8.4" fill="#cfcfcf"/><rect x="97.6" y="299.6" width="12" height="6.8" fill="#eee"/><rect x="98" y="300" width="1.6" height="6" fill="#333"/><rect x="107.6" y="300" width="1.6" height="6" fill="#333"/>
<circle cx="103.4" cy="303" r="0.8" fill="#111"/>
<rect x="112.1" y="300.5" width="2.3" height="5" fill="#fff"/><rect x="112.1" y="300.9" width="2.3" height="3.4" fill="#111"/>
<rect x="97.2" y="312.5" width="7.8" height="6.5" fill="#eee"/><rect x="106" y="312.5" width="3.8" height="6.5" fill="#eee"/>
<rect x="97.2" y="312.2" width="12.6" height="0.7" fill="#b8c848"/>
<rect x="112" y="312" width="1.8" height="4.5" fill="#111"/>
<rect x="116" y="312.5" width="4.5" height="2.2" fill="#111"/>
<rect x="120" y="312" width="1.8" height="4.5" fill="#111"/>
<rect x="112" y="318.5" width="1.8" height="2.5" fill="#111"/>
<rect x="116.5" y="319.5" width="2.8" height="2" fill="#111"/>
<rect x="120.5" y="319.5" width="2.5" height="2" fill="#111"/>
<rect x="113.5" y="327" width="1.5" height="1.5" fill="#111"/>
<rect x="119.5" y="327" width="2.5" height="1.5" fill="#111"/>
<rect x="122.5" y="322.5" width="2" height="2.5" fill="#111"/>
<rect x="126" y="306" width="1.5" height="3" fill="#111"/>
<rect x="135.25" y="303.9" width="7.5" height="4.5" fill="#f4f4f4"/>
<rect x="147.6" y="303" width="2.9" height="2" fill="#f4f4f4"/>
<rect x="122" y="307" width="1.6" height="5" fill="#f4f4f4"/>
<rect x="123" y="312.3" width="1.6" height="3.6" fill="#f4f4f4"/>
<rect x="131.1" y="303.5" width="1.9" height="5.2" fill="#fff"/><rect x="131.1" y="304.25" width="1.9" height="4.5" fill="#111"/>
<rect x="153.25" y="303.1" width="4.5" height="7.9" fill="#fff"/><rect x="153.25" y="305" width="4.5" height="4" fill="#2c2c34"/>
<rect x="128.25" y="306.9" width="1.5" height="4.85" fill="#fff"/><rect x="128.25" y="314" width="1.5" height="3.75" fill="#fff"/>
<rect x="123.8" y="320" width="3.8" height="7.5" rx="1.2" fill="#d8d8d8"/>
<rect x="115" y="323" width="4" height="6.8" fill="#2a3644"/>
<rect x="110.2" y="330" width="1" height="19" fill="#fff"/>
<rect x="111" y="330.6" width="15.3" height="18.4" fill="#2c2a30"/>
<rect x="113" y="348.5" width="11" height="1.2" fill="#fff"/>
<rect x="128.95" y="319.70" width="1.1" height="1.1" fill="#fff"/><rect x="130.75" y="319.70" width="1.1" height="1.1" fill="#fff"/><rect x="162.15" y="319.70" width="1.1" height="1.1" fill="#fff"/><rect x="163.95" y="319.70" width="1.1" height="1.1" fill="#fff"/><rect x="128.95" y="321.95" width="1.1" height="1.1" fill="#fff"/><rect x="130.75" y="321.95" width="1.1" height="1.1" fill="#fff"/><rect x="162.15" y="321.95" width="1.1" height="1.1" fill="#fff"/><rect x="163.95" y="321.95" width="1.1" height="1.1" fill="#fff"/><rect x="128.95" y="323.95" width="1.1" height="1.1" fill="#fff"/><rect x="130.75" y="323.95" width="1.1" height="1.1" fill="#fff"/><rect x="162.15" y="323.95" width="1.1" height="1.1" fill="#fff"/><rect x="163.95" y="323.95" width="1.1" height="1.1" fill="#fff"/><rect x="128.95" y="325.95" width="1.1" height="1.1" fill="#fff"/><rect x="130.75" y="325.95" width="1.1" height="1.1" fill="#fff"/><rect x="162.15" y="325.95" width="1.1" height="1.1" fill="#fff"/><rect x="163.95" y="325.95" width="1.1" height="1.1" fill="#fff"/><rect x="128.95" y="327.95" width="1.1" height="1.1" fill="#fff"/><rect x="130.75" y="327.95" width="1.1" height="1.1" fill="#fff"/><rect x="162.15" y="327.95" width="1.1" height="1.1" fill="#fff"/><rect x="163.95" y="327.95" width="1.1" height="1.1" fill="#fff"/><rect x="128.95" y="330.70" width="1.1" height="1.1" fill="#fff"/><rect x="130.75" y="330.70" width="1.1" height="1.1" fill="#fff"/><rect x="162.15" y="330.70" width="1.1" height="1.1" fill="#fff"/><rect x="163.95" y="330.70" width="1.1" height="1.1" fill="#fff"/><rect x="128.95" y="332.70" width="1.1" height="1.1" fill="#fff"/><rect x="130.75" y="332.70" width="1.1" height="1.1" fill="#fff"/><rect x="162.15" y="332.70" width="1.1" height="1.1" fill="#fff"/><rect x="163.95" y="332.70" width="1.1" height="1.1" fill="#fff"/><rect x="128.95" y="334.70" width="1.1" height="1.1" fill="#fff"/><rect x="130.75" y="334.70" width="1.1" height="1.1" fill="#fff"/><rect x="162.15" y="334.70" width="1.1" height="1.1" fill="#fff"/><rect x="163.95" y="334.70" width="1.1" height="1.1" fill="#fff"/><rect x="128.95" y="336.70" width="1.1" height="1.1" fill="#fff"/><rect x="130.75" y="336.70" width="1.1" height="1.1" fill="#fff"/><rect x="162.15" y="336.70" width="1.1" height="1.1" fill="#fff"/><rect x="163.95" y="336.70" width="1.1" height="1.1" fill="#fff"/><rect x="128.95" y="338.95" width="1.1" height="1.1" fill="#fff"/><rect x="130.75" y="338.95" width="1.1" height="1.1" fill="#fff"/><rect x="162.15" y="338.95" width="1.1" height="1.1" fill="#fff"/><rect x="163.95" y="338.95" width="1.1" height="1.1" fill="#fff"/><rect x="128.95" y="341.95" width="1.1" height="1.1" fill="#fff"/><rect x="130.75" y="341.95" width="1.1" height="1.1" fill="#fff"/><rect x="162.15" y="341.95" width="1.1" height="1.1" fill="#fff"/><rect x="163.95" y="341.95" width="1.1" height="1.1" fill="#fff"/><rect x="128.95" y="343.95" width="1.1" height="1.1" fill="#fff"/><rect x="130.75" y="343.95" width="1.1" height="1.1" fill="#fff"/><rect x="162.15" y="343.95" width="1.1" height="1.1" fill="#fff"/><rect x="163.95" y="343.95" width="1.1" height="1.1" fill="#fff"/><rect x="132.95" y="313.45" width="1.1" height="1.1" fill="#fff"/><rect x="132.95" y="315.25" width="1.1" height="1.1" fill="#fff"/><rect x="132.95" y="345.95" width="1.1" height="1.1" fill="#fff"/><rect x="132.95" y="347.75" width="1.1" height="1.1" fill="#fff"/><rect x="135.20" y="313.45" width="1.1" height="1.1" fill="#fff"/><rect x="135.20" y="315.25" width="1.1" height="1.1" fill="#fff"/><rect x="135.20" y="345.95" width="1.1" height="1.1" fill="#fff"/><rect x="135.20" y="347.75" width="1.1" height="1.1" fill="#fff"/><rect x="137.70" y="313.45" width="1.1" height="1.1" fill="#fff"/><rect x="137.70" y="315.25" width="1.1" height="1.1" fill="#fff"/><rect x="137.70" y="345.95" width="1.1" height="1.1" fill="#fff"/><rect x="137.70" y="347.75" width="1.1" height="1.1" fill="#fff"/><rect x="139.70" y="313.45" width="1.1" height="1.1" fill="#fff"/><rect x="139.70" y="315.25" width="1.1" height="1.1" fill="#fff"/><rect x="139.70" y="345.95" width="1.1" height="1.1" fill="#fff"/><rect x="139.70" y="347.75" width="1.1" height="1.1" fill="#fff"/><rect x="141.70" y="313.45" width="1.1" height="1.1" fill="#fff"/><rect x="141.70" y="315.25" width="1.1" height="1.1" fill="#fff"/><rect x="141.70" y="345.95" width="1.1" height="1.1" fill="#fff"/><rect x="141.70" y="347.75" width="1.1" height="1.1" fill="#fff"/><rect x="143.70" y="313.45" width="1.1" height="1.1" fill="#fff"/><rect x="143.70" y="315.25" width="1.1" height="1.1" fill="#fff"/><rect x="143.70" y="345.95" width="1.1" height="1.1" fill="#fff"/><rect x="143.70" y="347.75" width="1.1" height="1.1" fill="#fff"/><rect x="145.95" y="313.45" width="1.1" height="1.1" fill="#fff"/><rect x="145.95" y="315.25" width="1.1" height="1.1" fill="#fff"/><rect x="145.95" y="345.95" width="1.1" height="1.1" fill="#fff"/><rect x="145.95" y="347.75" width="1.1" height="1.1" fill="#fff"/><rect x="148.95" y="313.45" width="1.1" height="1.1" fill="#fff"/><rect x="148.95" y="315.25" width="1.1" height="1.1" fill="#fff"/><rect x="148.95" y="345.95" width="1.1" height="1.1" fill="#fff"/><rect x="148.95" y="347.75" width="1.1" height="1.1" fill="#fff"/><rect x="150.70" y="313.45" width="1.1" height="1.1" fill="#fff"/><rect x="150.70" y="315.25" width="1.1" height="1.1" fill="#fff"/><rect x="150.70" y="345.95" width="1.1" height="1.1" fill="#fff"/><rect x="150.70" y="347.75" width="1.1" height="1.1" fill="#fff"/><rect x="152.70" y="313.45" width="1.1" height="1.1" fill="#fff"/><rect x="152.70" y="315.25" width="1.1" height="1.1" fill="#fff"/><rect x="152.70" y="345.95" width="1.1" height="1.1" fill="#fff"/><rect x="152.70" y="347.75" width="1.1" height="1.1" fill="#fff"/><rect x="154.95" y="313.45" width="1.1" height="1.1" fill="#fff"/><rect x="154.95" y="315.25" width="1.1" height="1.1" fill="#fff"/><rect x="154.95" y="345.95" width="1.1" height="1.1" fill="#fff"/><rect x="154.95" y="347.75" width="1.1" height="1.1" fill="#fff"/><rect x="156.95" y="313.45" width="1.1" height="1.1" fill="#fff"/><rect x="156.95" y="315.25" width="1.1" height="1.1" fill="#fff"/><rect x="156.95" y="345.95" width="1.1" height="1.1" fill="#fff"/><rect x="156.95" y="347.75" width="1.1" height="1.1" fill="#fff"/><rect x="159.95" y="313.45" width="1.1" height="1.1" fill="#fff"/><rect x="159.95" y="315.25" width="1.1" height="1.1" fill="#fff"/><rect x="159.95" y="345.95" width="1.1" height="1.1" fill="#fff"/><rect x="159.95" y="347.75" width="1.1" height="1.1" fill="#fff"/>
<rect x="132" y="316.2" width="30" height="29.3" fill="#2d2b31"/>
<rect x="131" y="313" width="1.75" height="3.25" fill="#111"/>
<rect x="169.4" y="304.5" width="5.6" height="35" fill="#f2f2f2"/>
<rect x="170.5" y="307.0" width="4" height="1.4" fill="#777"/>
<rect x="170.5" y="309.9" width="4" height="1.4" fill="#777"/>
<rect x="170.5" y="312.8" width="4" height="1.4" fill="#777"/>
<rect x="170.5" y="315.7" width="4" height="1.4" fill="#777"/>
<rect x="170.5" y="318.6" width="4" height="1.4" fill="#777"/>
<rect x="170.5" y="321.5" width="4" height="1.4" fill="#777"/>
<rect x="170.5" y="324.4" width="4" height="1.4" fill="#777"/>
<rect x="170.5" y="327.3" width="4" height="1.4" fill="#777"/>
<rect x="170.5" y="330.2" width="4" height="1.4" fill="#777"/>
<rect x="170.5" y="333.1" width="4" height="1.4" fill="#777"/>
<rect x="170.5" y="336.0" width="4" height="1.4" fill="#777"/>
<rect x="174.3" y="306" width="0.8" height="33.5" fill="#222"/>
<rect x="175" y="306.9" width="8.8" height="33" fill="#f7f3d6"/>
<rect x="178.4" y="303.1" width="5.4" height="3.8" fill="#e8e8ec"/>
<rect x="178.4" y="339.9" width="5.4" height="2.5" fill="#e8e8ec"/>
<rect x="94.8" y="322.2" width="8.2" height="20" fill="#f7f3d6"/>
<rect x="94.8" y="320.4" width="3.5" height="1.8" fill="#e8e8ec"/><rect x="94.8" y="342.2" width="3.5" height="1.8" fill="#e8e8ec"/>
<rect x="103" y="323.5" width="4.6" height="17" fill="#f2f2f2"/>
<rect x="103.5" y="325.0" width="3.6" height="1.3" fill="#888"/>
<rect x="103.5" y="328.1" width="3.6" height="1.3" fill="#888"/>
<rect x="103.5" y="331.2" width="3.6" height="1.3" fill="#888"/>
<rect x="103.5" y="334.3" width="3.6" height="1.3" fill="#888"/>
<rect x="103.5" y="337.4" width="3.6" height="1.3" fill="#888"/>
<rect x="103" y="323" width="0.6" height="18" fill="#333"/>
<rect x="117.0" y="354" width="4.3" height="4" fill="#e6d3a6"/>
<rect x="123.3" y="354" width="4.3" height="4" fill="#e6d3a6"/>
<rect x="129.6" y="354" width="4.3" height="4" fill="#e6d3a6"/>
<rect x="135.9" y="354" width="4.3" height="4" fill="#e6d3a6"/>
<rect x="142.2" y="354" width="4.3" height="4" fill="#e6d3a6"/>
<rect x="148.5" y="354" width="4.3" height="4" fill="#e6d3a6"/>
<rect x="154.8" y="354" width="4.3" height="4" fill="#e6d3a6"/>
<rect x="117.0" y="359" width="4.3" height="4" fill="#e6d3a6"/>
<rect x="123.3" y="359" width="4.3" height="4" fill="#e6d3a6"/>
<rect x="129.6" y="359" width="4.3" height="4" fill="#e6d3a6"/>
<rect x="135.9" y="359" width="4.3" height="4" fill="#e6d3a6"/>
<rect x="142.2" y="359" width="4.3" height="4" fill="#e6d3a6"/>
<rect x="148.5" y="359" width="4.3" height="4" fill="#e6d3a6"/>
<rect x="154.8" y="359" width="4.3" height="4" fill="#e6d3a6"/></g>
<use href="#fc1" transform="translate(0 188.8)"/><path d="M485.1 222.3 A8.7 8.7 0 0 1 502.6 222.3 Q503 233 508 235.2 L563 235.2 Q568.8 233 569.2 222.3 A8.7 8.7 0 0 1 586.6 222.3 L586.6 304.7 A8.7 8.7 0 0 1 569.2 304.7 Q568.8 293.8 563 291.6 L508 291.6 Q503 293.8 502.6 304.7 A8.7 8.7 0 0 1 485.1 304.7 Z" fill="#1a86d6"/>
<circle cx="493.9" cy="222.3" r="7.9" fill="#c9bdb2"/>
<circle cx="493.9" cy="222.3" r="4.7" fill="#fff" stroke="#5aa8e0" stroke-width="0.5"/>
<circle cx="493.9" cy="304.7" r="7.9" fill="#c9bdb2"/>
<circle cx="493.9" cy="304.7" r="4.7" fill="#fff" stroke="#5aa8e0" stroke-width="0.5"/>
<circle cx="577.9" cy="222.3" r="7.9" fill="#c9bdb2"/>
<circle cx="577.9" cy="222.3" r="4.7" fill="#fff" stroke="#5aa8e0" stroke-width="0.5"/>
<circle cx="577.9" cy="304.7" r="7.9" fill="#c9bdb2"/>
<circle cx="577.9" cy="304.7" r="4.7" fill="#fff" stroke="#5aa8e0" stroke-width="0.5"/>
<rect x="485.1" y="235.2" width="101.5" height="6.6" fill="#6e6e6e"/>
<rect x="520.1" y="233.8" width="4.9" height="1.6" fill="#111"/><rect x="546" y="233.8" width="4.9" height="1.6" fill="#111"/>
<rect x="493.9" y="236.8" width="10.300000000000011" height="3.8" rx="1.9" fill="#e03a3a" stroke="#fff" stroke-width="0.35"/>
<rect x="531.2" y="236.8" width="10.699999999999932" height="3.8" rx="1.9" fill="#1e9ae6" stroke="#fff" stroke-width="0.35"/>
<rect x="567.3" y="236.8" width="10.600000000000023" height="3.8" rx="1.9" fill="#22a050" stroke="#fff" stroke-width="0.35"/>
<text x="518.6" y="240.4" font-size="4.2" font-weight="bold" fill="#ddd" text-anchor="middle">FREQ</text>
<text x="554.6" y="240.4" font-size="4.2" font-weight="bold" fill="#ddd" text-anchor="middle">PAR</text>
<rect x="485.1" y="241.8" width="101.5" height="49.8" fill="#272022"/>
<polyline points="498,241.8 498,252 509.5,258 520,252 520,241.8" fill="none" stroke="#2f5ec6" stroke-width="4"/>
<polygon points="485.1,250.5 509.5,264.5 509.5,270 485.1,256.5" fill="#2f5ec6"/>
<polygon points="485.1,279 528,254 529.5,256 485.1,281.5" fill="#1d5a92"/>
<polygon points="485.1,284 529,262 531,271.5 485.1,291.6" fill="#0e4e7d"/>
<polygon points="500,291.6 529,275 529.5,277.2 503.5,291.6" fill="#16a2ee"/>
<polygon points="510,291.6 537.5,276 537.5,291.6" fill="#0e4e7d"/>
<polygon points="537.5,257 578,241.8 586.6,241.8 586.6,244 542,266" fill="#2f5ec6"/>
<polygon points="538,253.5 562,242.5 563.5,243.8 539,255.3" fill="#2f5ec6"/>
<polygon points="542.5,270 586.6,245 586.6,252 542.5,276" fill="#0e4e7d"/>
<polyline points="545.5,268.8 555.5,274 555.5,291.6" fill="none" stroke="#16a2ee" stroke-width="1.8"/>
<polygon points="571,271 586,262.5 586,265 571,273.5" fill="#2f5ec6"/>
<polygon points="534.4,258.8 540,262 540,268.6 534.4,271.8 528.8,268.6 528.8,262" fill="#1c1a1c"/>
<rect x="531.6" y="260.9" width="1.7" height="1.4" fill="#eee"/><rect x="531.6" y="263" width="1.7" height="4.6" fill="#eee"/><rect x="534" y="263" width="3.6" height="1" fill="#ddd"/><rect x="534" y="264.8" width="3.6" height="1" fill="#ddd"/><rect x="534" y="266.6" width="3.6" height="1" fill="#ddd"/><rect x="534" y="263" width="1" height="4.6" fill="#ddd"/>
<polygon points="580.5,244.5 585,247.7 580.5,250.8" fill="#fff"/>
<text transform="translate(516 278.5) rotate(-34)" font-size="7" font-weight="bold" fill="#fff" text-anchor="middle">SUCCEX</text>
<text transform="translate(553.2 257) rotate(-34)" font-size="7" font-weight="bold" fill="#fff" text-anchor="middle">FORCE</text>
<rect x="489" y="247.50" width="8.6" height="3.4" rx="1.7" fill="#1a74c0" stroke="#7cc4f0" stroke-width="0.45"/>
<rect x="489" y="254.50" width="8.6" height="3.4" rx="1.7" fill="#1a74c0" stroke="#7cc4f0" stroke-width="0.45"/>
<rect x="489" y="261.50" width="8.6" height="3.4" rx="1.7" fill="#1a74c0" stroke="#7cc4f0" stroke-width="0.45"/>
<rect x="489" y="268.50" width="8.6" height="3.4" rx="1.7" fill="#1a74c0" stroke="#7cc4f0" stroke-width="0.45"/>
<rect x="489" y="275.50" width="8.6" height="3.4" rx="1.7" fill="#1a74c0" stroke="#7cc4f0" stroke-width="0.45"/>
<rect x="489" y="282.50" width="8.6" height="3.4" rx="1.7" fill="#1a74c0" stroke="#7cc4f0" stroke-width="0.45"/>
<rect x="495.5" y="291.6" width="9" height="1" fill="#f2f6fa"/><g transform="translate(0 0)">
<rect x="496.7" y="334" width="5.6" height="20.6" fill="#eeeed0"/>
<rect x="496.7" y="333.8" width="5.6" height="0.8" fill="#a8a8a0"/>
<rect x="496.7" y="353.90000000000003" width="5.6" height="0.8" fill="#a8a8a0"/>
<polygon points="502,328.7 533.8,329.4 535,396 502,396.5" fill="#e31e1e"/>
<rect x="533" y="330" width="0.9" height="65.5" fill="#f08080"/>
<path d="M534.8 333 H544 Q549 333 549 339 V386 Q549 392 544 392 H534.8 Z" fill="#e32a2a"/>
<path d="M541.5 333.5 Q549 334 549 340 V385 Q549 391.5 541.5 391.8 Z" fill="#e35a6a"/>
<rect x="542.6" y="338" width="0.9" height="49" rx="0.4" fill="#f6c0c8"/>
<rect x="549" y="339" width="9.2" height="46.6" fill="#1b1b1b"/>
<rect x="549" y="344.5" width="9.2" height="0.8" fill="#3a3a3a"/>
<rect x="549" y="355" width="9.2" height="0.8" fill="#3a3a3a"/>
<rect x="549" y="366" width="9.2" height="0.8" fill="#3a3a3a"/>
<rect x="549" y="377" width="9.2" height="0.8" fill="#3a3a3a"/>
<rect x="558" y="345" width="14" height="35" fill="#0d0d0d"/>
<rect x="559.5" y="345.5" width="0.6" height="34" fill="#383838"/>
<rect x="561.6" y="345.5" width="0.6" height="34" fill="#383838"/>
<rect x="563.7" y="345.5" width="0.6" height="34" fill="#383838"/>
<rect x="565.8" y="345.5" width="0.6" height="34" fill="#383838"/>
<rect x="567.9" y="345.5" width="0.6" height="34" fill="#383838"/>
<rect x="570.0" y="345.5" width="0.6" height="34" fill="#383838"/>
<rect x="572" y="342" width="10.2" height="43" fill="#050505"/>
<rect x="596.9" y="361.3" width="51" height="17.7" rx="3.2" fill="#8f8f8f"/>
<text transform="translate(622.8 374.9) scale(0.84 1)" font-size="12.8" fill="#fff" text-anchor="middle">CAMERA</text>
</g><g transform="translate(0 188)">
<rect x="496.7" y="334" width="5.6" height="20.6" fill="#eeeed0"/>
<rect x="496.7" y="333.8" width="5.6" height="0.8" fill="#a8a8a0"/>
<rect x="496.7" y="353.90000000000003" width="5.6" height="0.8" fill="#a8a8a0"/>
<polygon points="502,328.7 533.8,329.4 535,396 502,396.5" fill="#e31e1e"/>
<rect x="533" y="330" width="0.9" height="65.5" fill="#f08080"/>
<path d="M534.8 333 H544 Q549 333 549 339 V386 Q549 392 544 392 H534.8 Z" fill="#e32a2a"/>
<path d="M541.5 333.5 Q549 334 549 340 V385 Q549 391.5 541.5 391.8 Z" fill="#e35a6a"/>
<rect x="542.6" y="338" width="0.9" height="49" rx="0.4" fill="#f6c0c8"/>
<rect x="549" y="339" width="9.2" height="46.6" fill="#1b1b1b"/>
<rect x="549" y="344.5" width="9.2" height="0.8" fill="#3a3a3a"/>
<rect x="549" y="355" width="9.2" height="0.8" fill="#3a3a3a"/>
<rect x="549" y="366" width="9.2" height="0.8" fill="#3a3a3a"/>
<rect x="549" y="377" width="9.2" height="0.8" fill="#3a3a3a"/>
<rect x="558" y="345" width="14" height="35" fill="#0d0d0d"/>
<rect x="559.5" y="345.5" width="0.6" height="34" fill="#383838"/>
<rect x="561.6" y="345.5" width="0.6" height="34" fill="#383838"/>
<rect x="563.7" y="345.5" width="0.6" height="34" fill="#383838"/>
<rect x="565.8" y="345.5" width="0.6" height="34" fill="#383838"/>
<rect x="567.9" y="345.5" width="0.6" height="34" fill="#383838"/>
<rect x="570.0" y="345.5" width="0.6" height="34" fill="#383838"/>
<rect x="572" y="342" width="10.2" height="43" fill="#050505"/>
<rect x="596.9" y="360.2" width="51" height="17.7" rx="3.2" fill="#8f8f8f"/>
<text transform="translate(622.8 373.79999999999995) scale(0.84 1)" font-size="12.8" fill="#fff" text-anchor="middle">CAMERA</text>
</g><line x1="496.4" y1="409.8" x2="484.2" y2="398.8" stroke="#1a78c2" stroke-width="13" stroke-linecap="round"/>
<line x1="565.1" y1="408.6" x2="577.2" y2="396.6" stroke="#1a78c2" stroke-width="13" stroke-linecap="round"/>
<line x1="494.9" y1="469.6" x2="484.6" y2="483.3" stroke="#1a78c2" stroke-width="13" stroke-linecap="round"/>
<line x1="565.1" y1="470" x2="577.2" y2="479.6" stroke="#1a78c2" stroke-width="13" stroke-linecap="round"/>
<rect x="488.1" y="401.1" width="84.9" height="76.4" fill="#1a78c2"/>
<line x1="496.4" y1="409.8" x2="486.6" y2="400.4" stroke="#c9a236" stroke-width="3.6" stroke-linecap="round"/>
<circle cx="496.4" cy="409.8" r="5.3" fill="#c9a236"/><circle cx="486.6" cy="400.4" r="3.5" fill="#c9a236"/>
<line x1="496.4" y1="409.8" x2="486.6" y2="400.4" stroke="#fff" stroke-width="2.6" stroke-linecap="round"/>
<circle cx="496.4" cy="409.8" r="4.6" fill="#fff"/><circle cx="486.6" cy="400.4" r="2.8" fill="#fff"/>
<line x1="565.1" y1="408.6" x2="574.1" y2="398.5" stroke="#c9a236" stroke-width="3.6" stroke-linecap="round"/>
<circle cx="565.1" cy="408.6" r="5.3" fill="#c9a236"/><circle cx="574.1" cy="398.5" r="3.5" fill="#c9a236"/>
<line x1="565.1" y1="408.6" x2="574.1" y2="398.5" stroke="#fff" stroke-width="2.6" stroke-linecap="round"/>
<circle cx="565.1" cy="408.6" r="4.6" fill="#fff"/><circle cx="574.1" cy="398.5" r="2.8" fill="#fff"/>
<line x1="494.9" y1="469.6" x2="485.9" y2="480.9" stroke="#c9a236" stroke-width="3.6" stroke-linecap="round"/>
<circle cx="494.9" cy="469.6" r="5.3" fill="#c9a236"/><circle cx="485.9" cy="480.9" r="3.5" fill="#c9a236"/>
<line x1="494.9" y1="469.6" x2="485.9" y2="480.9" stroke="#fff" stroke-width="2.6" stroke-linecap="round"/>
<circle cx="494.9" cy="469.6" r="4.6" fill="#fff"/><circle cx="485.9" cy="480.9" r="2.8" fill="#fff"/>
<line x1="565.1" y1="470" x2="576.4" y2="479" stroke="#c9a236" stroke-width="3.6" stroke-linecap="round"/>
<circle cx="565.1" cy="470" r="5.3" fill="#c9a236"/><circle cx="576.4" cy="479" r="3.5" fill="#c9a236"/>
<line x1="565.1" y1="470" x2="576.4" y2="479" stroke="#fff" stroke-width="2.6" stroke-linecap="round"/>
<circle cx="565.1" cy="470" r="4.6" fill="#fff"/><circle cx="576.4" cy="479" r="2.8" fill="#fff"/>
<rect x="516.6" y="403" width="5.3" height="5.4" fill="#d6b48a"/>
<rect x="517.4" y="411.5" width="3.6" height="0.8" fill="#7fb8e6"/>
<rect x="526" y="403" width="5.3" height="5.4" fill="#d6b48a"/>
<rect x="526.8" y="411.5" width="3.6" height="0.8" fill="#7fb8e6"/>
<rect x="535.1" y="403" width="5.3" height="5.4" fill="#d6b48a"/>
<rect x="535.9" y="411.5" width="3.6" height="0.8" fill="#7fb8e6"/>
<rect x="544.1" y="403" width="5.3" height="5.4" fill="#d6b48a"/>
<rect x="544.9" y="411.5" width="3.6" height="0.8" fill="#7fb8e6"/>
<rect x="506.5" y="403.5" width="6.5" height="1" fill="#fff"/><rect x="507.5" y="404" width="1.2" height="5" fill="#fff"/><rect x="510.5" y="404" width="1.2" height="5" fill="#fff"/>
<rect x="508.6" y="416" width="38.4" height="51.8" fill="#221e22"/>
<svg x="508.6" y="416" width="38.4" height="51.8" viewBox="0 0 38.4 51.8" overflow="hidden">
<polygon points="17.2,16.2 28.2,0 38.4,0 38.4,7.9 17.2,21.6" fill="#1f3d7a"/>
<polygon points="12.5,27.5 38.4,10.5 38.4,18.5 15.5,33.5" fill="#1f3d7a"/>
<polygon points="0,27.5 11,21 13.5,26.5 0,36" fill="#1f3d7a"/>
<polygon points="0,36.6 14.5,23.5 17,31.5 0,46.5" fill="#2e62c4"/>
<polygon points="27.5,24.5 31,22 38.4,30 38.4,37" fill="#2e62c4"/>
<polyline points="21.6,38.3 38.4,28" fill="none" stroke="#1f3d7a" stroke-width="2.2"/>
<polyline points="24.9,51.8 24.9,41.6 31.5,35.5 38.4,41.6" fill="none" stroke="#2e62c4" stroke-width="3"/>
<polyline points="0.7,51 16.9,36.9" fill="none" stroke="#18a0ea" stroke-width="1.8"/>
<polyline points="7,0 7,18.9 12.25,25" fill="none" stroke="#2e62c4" stroke-width="1.2"/>
<polyline points="23.8,14 37.8,1.3" fill="none" stroke="#2e62c4" stroke-width="2"/>
<polygon points="18.85,23.9 22.9,26.2 22.9,30.8 18.85,33.1 14.8,30.8 14.8,26.2" fill="#1b1b20"/>
<rect x="5.2" y="3.2" width="3.6" height="6.6" rx="1.6" fill="#1e8ed8" stroke="#5ab8f0" stroke-width="0.3"/>
<rect x="10.45" y="3.2" width="3.6" height="6.6" rx="1.6" fill="#1e8ed8" stroke="#5ab8f0" stroke-width="0.3"/>
<rect x="15.95" y="3.2" width="3.6" height="6.6" rx="1.6" fill="#1e8ed8" stroke="#5ab8f0" stroke-width="0.3"/>
<rect x="21.45" y="3.2" width="3.6" height="6.6" rx="1.6" fill="#1e8ed8" stroke="#5ab8f0" stroke-width="0.3"/>
<rect x="8.0" y="43" width="3.6" height="6.9" rx="1.6" fill="#1e8ed8" stroke="#5ab8f0" stroke-width="0.3"/>
<rect x="14.0" y="43" width="3.6" height="6.9" rx="1.6" fill="#1e8ed8" stroke="#5ab8f0" stroke-width="0.3"/>
<rect x="20.599999999999998" y="43" width="3.6" height="6.9" rx="1.6" fill="#1e8ed8" stroke="#5ab8f0" stroke-width="0.3"/>
</svg>
<rect x="556.1" y="419.1" width="17.6" height="15.4" fill="#d8d8d8"/>
<rect x="556.1" y="419.1" width="17.6" height="1.6" fill="#333"/><rect x="556.1" y="432.9" width="17.6" height="1.6" fill="#333"/>
<rect x="556" y="421.5" width="3.5" height="4" rx="1" fill="#111"/><rect x="556" y="428.2" width="3.5" height="4" rx="1" fill="#111"/>
<rect x="555.5" y="416.3" width="4.5" height="3" fill="#f0f0f0"/>
<rect x="564" y="416.3" width="4.5" height="3" fill="#f0f0f0"/>
<rect x="555.5" y="435" width="4.5" height="3" fill="#f0f0f0"/>
<rect x="564" y="435" width="4.5" height="3" fill="#f0f0f0"/>
<rect x="549.4" y="443" width="10.5" height="10.5" fill="#35353d"/>
<rect x="564" y="444.9" width="8" height="14" fill="#fff"/><rect x="565.2" y="446.2" width="5.6" height="11.4" fill="#d8b020"/><circle cx="568" cy="451.5" r="1.6" fill="#111"/>
<rect x="549.5" y="459" width="7.5" height="3.5" fill="#233446"/><rect x="550" y="456" width="1" height="3" fill="#fff"/><rect x="555" y="456" width="1" height="3" fill="#fff"/>
<rect x="557.5" y="456.5" width="3.5" height="6" fill="#fff"/><rect x="558.3" y="458" width="1.9" height="3" fill="#c8a070"/>
<rect x="551.5" y="465" width="3" height="5" fill="#fff"/><rect x="551.5" y="466.2" width="3" height="2.6" fill="#b89060"/>
<rect x="488.1" y="443.4" width="9" height="18.7" fill="#f7f2d6"/>
<rect x="488.1" y="442" width="4" height="1.6" fill="#eee"/><rect x="488.1" y="462" width="4" height="1.6" fill="#eee"/>
<rect x="497.5" y="447.5" width="4" height="2.2" fill="#f4f4f4"/>
<rect x="497.5" y="452.0" width="4" height="2.2" fill="#f4f4f4"/>
<rect x="497.5" y="456.5" width="4" height="2.2" fill="#f4f4f4"/>
<rect x="497.2" y="444" width="0.5" height="18" fill="#222"/>
<rect x="492.2" y="418" width="5.3" height="8.3" fill="#263340"/>
<rect x="489.8" y="418.5" width="1.6" height="1.3" fill="#fff"/>
<rect x="489.8" y="421.5" width="1.6" height="1.3" fill="#fff"/>
<rect x="489.8" y="424.5" width="1.6" height="1.3" fill="#fff"/>
<rect x="498.5" y="418.5" width="1" height="1.2" fill="#fff"/><rect x="498.5" y="424.5" width="1" height="1.2" fill="#fff"/>
<rect x="489.6" y="428.9" width="7.9" height="9" fill="#f0f0f0"/><rect x="490.3" y="430" width="6.5" height="6" fill="#1d1a1a"/>
<rect x="500.5" y="419.5" width="5" height="2.5" fill="#fff"/><rect x="500.5" y="423.5" width="5" height="2.5" fill="#fff"/>
<rect x="500.5" y="428" width="5" height="3.5" fill="#fff"/><rect x="500.5" y="429" width="5" height="1.6" fill="#c8a070"/>
<rect x="500.5" y="432.5" width="5" height="5" fill="#fff"/><rect x="501" y="433" width="4" height="4" fill="#c0a078"/>
<rect x="503" y="410.5" width="3" height="5.5" fill="#fff"/><rect x="503.5" y="412" width="2" height="2.5" fill="#b89060"/>
<rect x="508" y="470" width="6.8" height="3" fill="#fff"/><rect x="510" y="471" width="2.5" height="1" fill="#b89060"/>
<rect x="517.4" y="468.9" width="9.7" height="7.5" rx="0.6" fill="#d8d8d8"/>
<rect x="531" y="473.4" width="5" height="4.1" fill="#f0f0f0"/><rect x="532" y="475" width="3" height="2" fill="#b89060"/>
<rect x="539" y="473.4" width="5" height="4.1" fill="#f0f0f0"/><rect x="540" y="475" width="3" height="2" fill="#b89060"/>
<rect x="546" y="473.4" width="5" height="4.1" fill="#f0f0f0"/><rect x="547" y="475" width="3" height="2" fill="#b89060"/><path d="M99.80 681.10 L102.10 680.80 L103.30 675.40 L104.70 672.50 L107.40 676.40 L110.30 673.40 L107.80 669.90 L109.80 667.80 L112.20 667.40 L173.60 667.40 L176.00 667.80 L178.00 669.90 L175.50 673.40 L178.40 676.40 L181.10 672.50 L182.50 675.40 L183.70 680.80 L186.00 681.10 L186.00 740.10 L183.70 740.40 L182.50 745.80 L181.10 748.70 L178.40 744.80 L175.50 747.80 L178.00 751.30 L176.00 753.40 L173.60 753.80 L112.20 753.80 L109.80 753.40 L107.80 751.30 L110.30 747.80 L107.40 744.80 L104.70 748.70 L103.30 745.80 L102.10 740.40 L99.80 740.10 Z" fill="#1b8e4b"/>
<circle cx="112" cy="676.6" r="5.3" fill="#fff"/>
<circle cx="173.8" cy="676.6" r="5.3" fill="#fff"/>
<circle cx="112" cy="744.6" r="5.3" fill="#fff"/>
<circle cx="174.5" cy="744.3" r="5.3" fill="#fff"/>
<rect x="123.1" y="670.9" width="3.9" height="6" fill="#fff"/><rect x="123.1" y="672.40" width="3.9" height="3.00" fill="#b89068"/>
<rect x="123.1" y="678.8" width="3.9" height="6" fill="#fff"/><rect x="123.1" y="680.30" width="3.9" height="3.00" fill="#b89068"/>
<rect x="128.1" y="670.9" width="3.9" height="6" fill="#fff"/><rect x="128.1" y="672.40" width="3.9" height="3.00" fill="#b89068"/>
<rect x="128.1" y="678.8" width="3.9" height="6" fill="#fff"/><rect x="128.1" y="680.30" width="3.9" height="3.00" fill="#b89068"/>
<rect x="133.1" y="669.8" width="11.9" height="12.1" rx="0.6" fill="#8a909c"/>
<rect x="135.9" y="685.2" width="11" height="9.4" fill="#2a1a18"/>
<rect x="121.3" y="688" width="4.7" height="10.9" fill="#fff"/><rect x="121.3" y="690.73" width="4.7" height="5.45" fill="#1a1a1a"/>
<rect x="128" y="688" width="5" height="10.9" fill="#fff"/><rect x="128" y="690.73" width="5" height="5.45" fill="#b89068"/>
<rect x="105.9" y="689" width="2.2" height="5" fill="#fff"/><rect x="105.9" y="689.8" width="2.2" height="3.4" fill="#111"/>
<rect x="153.25" y="670" width="9.7" height="8" fill="#fff"/><rect x="153.25" y="672.5" width="9.7" height="3" fill="#1a1a1a"/><rect x="157.8" y="670" width="0.6" height="8" fill="#1b8e4b"/>
<rect x="147.1" y="674.9" width="4.9" height="3.2" fill="#fff"/><rect x="147.1" y="675.70" width="4.9" height="1.60" fill="#b89068"/>
<rect x="147.1" y="678.7" width="4.9" height="3.2" fill="#fff"/><rect x="147.1" y="679.50" width="4.9" height="1.60" fill="#b89068"/>
<rect x="155" y="680" width="5.7" height="4" fill="#fff"/><rect x="156.43" y="680" width="2.85" height="4" fill="#b89068"/>
<rect x="154.2" y="686.5" width="8" height="12.6" fill="#fff"/><rect x="154.8" y="687.1" width="6.8" height="11.4" fill="#2a1a18"/>
<rect x="162" y="688" width="3.5" height="2.4" fill="#fff"/>
<rect x="162" y="691.5" width="3.5" height="2.4" fill="#fff"/>
<rect x="162" y="695" width="3.5" height="2.4" fill="#fff"/>
<circle cx="153.5" cy="692.8" r="1.2" fill="#fff"/>
<rect x="165.9" y="695.4" width="6.1" height="7.5" fill="#fff"/><rect x="165.9" y="697.27" width="6.1" height="3.75" fill="#b89068"/>
<rect x="174.2" y="691.25" width="6" height="15.350000000000023" fill="#f2f2f2"/>
<rect x="174.6" y="693.75" width="3.5" height="1.6" fill="#1b8e4b"/>
<rect x="174.6" y="698.55" width="3.5" height="1.6" fill="#1b8e4b"/>
<rect x="174.6" y="703.35" width="3.5" height="1.6" fill="#1b8e4b"/>
<rect x="179.3" y="689.75" width="0.6" height="18.350000000000023" fill="#333"/>
<rect x="180.1" y="689.75" width="7.9" height="18.350000000000023" fill="#f7f3d6"/>
<rect x="183" y="687.95" width="5.5" height="1.8" fill="#e8e8ec"/><rect x="183" y="708.1" width="5.5" height="1.8" fill="#e8e8ec"/>
<rect x="174.2" y="715.4" width="6" height="15.0" fill="#f2f2f2"/>
<rect x="174.6" y="717.90" width="3.5" height="1.6" fill="#1b8e4b"/>
<rect x="174.6" y="722.70" width="3.5" height="1.6" fill="#1b8e4b"/>
<rect x="174.6" y="727.50" width="3.5" height="1.6" fill="#1b8e4b"/>
<rect x="179.3" y="713.9" width="0.6" height="18.0" fill="#333"/>
<rect x="180.1" y="713.9" width="7.9" height="18.0" fill="#f7f3d6"/>
<rect x="183" y="712.1" width="5.5" height="1.8" fill="#e8e8ec"/><rect x="183" y="731.9" width="5.5" height="1.8" fill="#e8e8ec"/>
<rect x="180" y="709" width="6" height="3.5" fill="#1b8e4b"/>
<rect x="98.1" y="696.9" width="7.8" height="29" fill="#f7f3d6"/>
<rect x="98.1" y="694.3" width="5" height="2.6" fill="#e8e8ec"/><rect x="98.1" y="725.9" width="5" height="2.6" fill="#e8e8ec"/>
<rect x="105.9" y="697.5" width="5" height="28" fill="#f2f2f2"/>
<rect x="106.4" y="700.00" width="2.6" height="1.4" fill="#888"/>
<rect x="106.4" y="703.10" width="2.6" height="1.4" fill="#888"/>
<rect x="106.4" y="706.20" width="2.6" height="1.4" fill="#888"/>
<rect x="106.4" y="709.30" width="2.6" height="1.4" fill="#888"/>
<rect x="106.4" y="712.40" width="2.6" height="1.4" fill="#888"/>
<rect x="106.4" y="715.50" width="2.6" height="1.4" fill="#888"/>
<rect x="106.4" y="718.60" width="2.6" height="1.4" fill="#888"/>
<rect x="106.4" y="721.70" width="2.6" height="1.4" fill="#888"/>
<rect x="105.9" y="697" width="0.7" height="29" fill="#333"/>
<rect x="128.2" y="706.00" width="1.8" height="1.2" fill="#ccc"/><rect x="141" y="706.00" width="2" height="1.2" fill="#ccc"/>
<rect x="128.2" y="708.60" width="1.8" height="1.2" fill="#ccc"/><rect x="141" y="708.60" width="2" height="1.2" fill="#ccc"/>
<rect x="128.2" y="711.20" width="1.8" height="1.2" fill="#ccc"/><rect x="141" y="711.20" width="2" height="1.2" fill="#ccc"/>
<rect x="128.2" y="713.80" width="1.8" height="1.2" fill="#ccc"/><rect x="141" y="713.80" width="2" height="1.2" fill="#ccc"/>
<rect x="128.2" y="716.40" width="1.8" height="1.2" fill="#ccc"/><rect x="141" y="716.40" width="2" height="1.2" fill="#ccc"/>
<rect x="128.2" y="719.00" width="1.8" height="1.2" fill="#ccc"/><rect x="141" y="719.00" width="2" height="1.2" fill="#ccc"/>
<rect x="128.2" y="721.60" width="1.8" height="1.2" fill="#ccc"/><rect x="141" y="721.60" width="2" height="1.2" fill="#ccc"/>
<rect x="128.2" y="724.20" width="1.8" height="1.2" fill="#ccc"/><rect x="141" y="724.20" width="2" height="1.2" fill="#ccc"/>
<rect x="128.2" y="726.80" width="1.8" height="1.2" fill="#ccc"/><rect x="141" y="726.80" width="2" height="1.2" fill="#ccc"/>
<rect x="128.2" y="729.40" width="1.8" height="1.2" fill="#ccc"/><rect x="141" y="729.40" width="2" height="1.2" fill="#ccc"/>
<rect x="130.50" y="702.2" width="1.1" height="1.8" fill="#ccc"/><rect x="130.50" y="731.7" width="1.1" height="2" fill="#ccc"/>
<rect x="132.60" y="702.2" width="1.1" height="1.8" fill="#ccc"/><rect x="132.60" y="731.7" width="1.1" height="2" fill="#ccc"/>
<rect x="134.70" y="702.2" width="1.1" height="1.8" fill="#ccc"/><rect x="134.70" y="731.7" width="1.1" height="2" fill="#ccc"/>
<rect x="136.80" y="702.2" width="1.1" height="1.8" fill="#ccc"/><rect x="136.80" y="731.7" width="1.1" height="2" fill="#ccc"/>
<rect x="138.90" y="702.2" width="1.1" height="1.8" fill="#ccc"/><rect x="138.90" y="731.7" width="1.1" height="2" fill="#ccc"/>
<rect x="130" y="704.2" width="10.9" height="27.3" fill="#37373f"/>
<rect x="152.3" y="709.00" width="1.8" height="1.2" fill="#ccc"/><rect x="167.9" y="709.00" width="1.8" height="1.2" fill="#ccc"/>
<rect x="155.50" y="705.2" width="1.1" height="1.8" fill="#ccc"/><rect x="155.50" y="724.9" width="1.1" height="1.8" fill="#ccc"/>
<rect x="152.3" y="711.60" width="1.8" height="1.2" fill="#ccc"/><rect x="167.9" y="711.60" width="1.8" height="1.2" fill="#ccc"/>
<rect x="157.60" y="705.2" width="1.1" height="1.8" fill="#ccc"/><rect x="157.60" y="724.9" width="1.1" height="1.8" fill="#ccc"/>
<rect x="152.3" y="714.20" width="1.8" height="1.2" fill="#ccc"/><rect x="167.9" y="714.20" width="1.8" height="1.2" fill="#ccc"/>
<rect x="159.70" y="705.2" width="1.1" height="1.8" fill="#ccc"/><rect x="159.70" y="724.9" width="1.1" height="1.8" fill="#ccc"/>
<rect x="152.3" y="716.80" width="1.8" height="1.2" fill="#ccc"/><rect x="167.9" y="716.80" width="1.8" height="1.2" fill="#ccc"/>
<rect x="161.80" y="705.2" width="1.1" height="1.8" fill="#ccc"/><rect x="161.80" y="724.9" width="1.1" height="1.8" fill="#ccc"/>
<rect x="152.3" y="719.40" width="1.8" height="1.2" fill="#ccc"/><rect x="167.9" y="719.40" width="1.8" height="1.2" fill="#ccc"/>
<rect x="163.90" y="705.2" width="1.1" height="1.8" fill="#ccc"/><rect x="163.90" y="724.9" width="1.1" height="1.8" fill="#ccc"/>
<rect x="152.3" y="722.00" width="1.8" height="1.2" fill="#ccc"/><rect x="167.9" y="722.00" width="1.8" height="1.2" fill="#ccc"/>
<rect x="166.00" y="705.2" width="1.1" height="1.8" fill="#ccc"/><rect x="166.00" y="724.9" width="1.1" height="1.8" fill="#ccc"/>
<rect x="154.25" y="707.1" width="13.5" height="17.6" fill="#37373f"/>
<rect x="146.25" y="707.2" width="3.9" height="10.5" fill="#fff"/><rect x="146.6" y="709.5" width="3.2" height="6" fill="#b89068"/><rect x="147.5" y="709.8" width="1.3" height="1.3" fill="#111"/><rect x="147.5" y="714" width="1.3" height="1.3" fill="#111"/>
<rect x="146.25" y="719.5" width="5.3" height="7" rx="1.6" fill="#2a1a18"/>
<rect x="116" y="704" width="4" height="10" fill="#fff"/><rect x="116" y="706.50" width="4" height="5.00" fill="#1a1a1a"/>
<rect x="117.3" y="718.8" width="2.2" height="4.4" fill="#111"/><rect x="119.5" y="721" width="1.3" height="2.2" fill="#111"/>
<rect x="119" y="725" width="4.9" height="3.2" fill="#fff"/><rect x="119" y="725.80" width="4.9" height="1.60" fill="#b89068"/>
<rect x="119" y="728.8" width="4.9" height="3.2" fill="#fff"/><rect x="119" y="729.60" width="4.9" height="1.60" fill="#b89068"/>
<rect x="127.8" y="739.8" width="3.1" height="5.2" fill="#fff"/><rect x="127.8" y="741.10" width="3.1" height="2.60" fill="#b89068"/>
<rect x="134.8" y="735.9" width="5.25" height="9.6" fill="#2a1a18"/>
<rect x="144.1" y="734.9" width="7.9" height="4.1" fill="#fff"/><rect x="146.07" y="734.9" width="3.95" height="4.1" fill="#1a1a1a"/>
<rect x="145.75" y="742" width="3.1" height="4.8" fill="#fff"/><rect x="145.75" y="743.20" width="3.1" height="2.40" fill="#b89068"/>
<rect x="156" y="727.5" width="6.5" height="6" rx="2.4" fill="none" stroke="#d8e8d8" stroke-width="0.5"/><rect x="157.2" y="731.5" width="4" height="0.7" fill="#fff"/>
<rect x="160.25" y="737.1" width="3.75" height="2.6" fill="#fff"/><rect x="161" y="737.5" width="2.2" height="1.8" fill="#111"/>
<rect x="160.25" y="740.5" width="3.75" height="2.6" fill="#fff"/><rect x="161" y="740.9" width="2.2" height="1.8" fill="#111"/>
<rect x="160.25" y="743.5" width="3.75" height="2.6" fill="#fff"/><rect x="161" y="743.9" width="2.2" height="1.8" fill="#111"/>
<rect x="160.25" y="746.5" width="3.75" height="2.6" fill="#fff"/><rect x="161" y="746.9" width="2.2" height="1.8" fill="#111"/>
<rect x="153.9" y="740.5" width="3.6" height="2.6" fill="#fff"/><rect x="154.6" y="740.9" width="2.2" height="1.8" fill="#111"/>
<rect x="153.9" y="744.5" width="3.6" height="2.6" fill="#fff"/><rect x="154.6" y="744.9" width="2.2" height="1.8" fill="#111"/><rect x="328" y="651.6" width="30.4" height="10.15" rx="2" fill="#221a18"/>
<text transform="translate(342.8 658.8) scale(0.83 1)" font-size="6.4" fill="#d8d8d8" text-anchor="middle">BUZZER</text>
<circle cx="340.9" cy="673.4" r="8.1" fill="#221a18"/>
<circle cx="346.6" cy="673.4" r="1" fill="#555" stroke="#8a8a8a" stroke-width="0.4"/>
<rect x="570.3" y="691.05" width="74.6" height="9.65" fill="#2a1e1e"/>
<rect x="570.3" y="692" width="4.2" height="7.6" fill="#e0e0e4"/>
<rect x="577.20" y="692.2" width="8.4" height="7.5" fill="#fff"/><rect x="578.20" y="693" width="6.4" height="5.9" fill="#e6e3d3"/>
<rect x="586.50" y="694" width="1" height="4" fill="#777"/>
<rect x="588.75" y="692.2" width="8.4" height="7.5" fill="#fff"/><rect x="589.75" y="693" width="6.4" height="5.9" fill="#e6e3d3"/>
<rect x="598.05" y="694" width="1" height="4" fill="#777"/>
<rect x="600.30" y="692.2" width="8.4" height="7.5" fill="#fff"/><rect x="601.30" y="693" width="6.4" height="5.9" fill="#e6e3d3"/>
<rect x="609.60" y="694" width="1" height="4" fill="#777"/>
<rect x="611.85" y="692.2" width="8.4" height="7.5" fill="#fff"/><rect x="612.85" y="693" width="6.4" height="5.9" fill="#e6e3d3"/>
<rect x="621.15" y="694" width="1" height="4" fill="#777"/>
<rect x="623.40" y="692.2" width="8.4" height="7.5" fill="#fff"/><rect x="624.40" y="693" width="6.4" height="5.9" fill="#e6e3d3"/>
<rect x="632.70" y="694" width="1" height="4" fill="#777"/>
<rect x="634.95" y="692.2" width="8.4" height="7.5" fill="#fff"/><rect x="635.95" y="693" width="6.4" height="5.9" fill="#e6e3d3"/>
<rect x="644.25" y="694" width="1" height="4" fill="#777"/>
<rect x="588.9" y="711" width="48.1" height="16.3" rx="2.2" fill="#fdd200"/>
<text transform="translate(613.3 723.5) scale(0.8 1)" font-size="10" fill="#fff" text-anchor="middle">LED</text>
</svg>
</body></html>
